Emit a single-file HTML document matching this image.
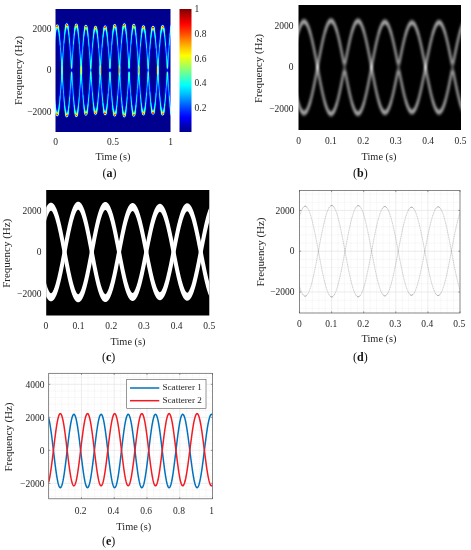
<!DOCTYPE html><html><head><meta charset="utf-8"><title>Figure</title><style>html,body{margin:0;padding:0;background:#fff}svg{display:block}</style></head><body><svg width="471" height="550" viewBox="0 0 471 550" font-family='"Liberation Serif", serif'>
<defs>
<filter id="fa" x="40" y="0" width="150" height="150" filterUnits="userSpaceOnUse" color-interpolation-filters="sRGB"><feConvolveMatrix order="5" kernelMatrix="0.0001 0.0018 0.0059 0.0018 0.0001 0.0011 0.0386 0.1260 0.0386 0.0011 0.0031 0.1071 0.3496 0.1071 0.0031 0.0011 0.0386 0.1260 0.0386 0.0011 0.0001 0.0018 0.0059 0.0018 0.0001" edgeMode="duplicate" preserveAlpha="true"/><feComponentTransfer><feFuncR type="table" tableValues="0 0 0 0 0 0 0 0 0 0.15 0.33 0.52 0.7 0.88 1 1 1 1 1 1 0.83 0.65 0.5 0.5 0.5 0.5 0.5 0.5 0.5 0.5 0.5 0.5 0.5 0.5 0.5 0.5 0.5 0.5 0.5 0.5 0.5 0.5 0.5 0.5 0.5 0.5 0.5 0.5 0.5"/><feFuncG type="table" tableValues="0 0 0 0.05 0.23 0.42 0.6 0.78 0.97 1 1 1 1 1 0.93 0.75 0.57 0.38 0.2 0.02 0 0 0 0 0 0 0 0 0 0 0 0 0 0 0 0 0 0 0 0 0 0 0 0 0 0 0 0 0"/><feFuncB type="table" tableValues="0.56 0.68 0.87 1 1 1 1 1 1 0.85 0.67 0.48 0.3 0.12 0 0 0 0 0 0 0 0 0 0 0 0 0 0 0 0 0 0 0 0 0 0 0 0 0 0 0 0 0 0 0 0 0 0 0"/></feComponentTransfer></filter>
<filter id="fb" x="280" y="-10" width="200" height="160" filterUnits="userSpaceOnUse" color-interpolation-filters="sRGB"><feGaussianBlur stdDeviation="1 1.4"/></filter>
<linearGradient id="jet" x1="0" y1="1" x2="0" y2="0">
<stop offset="0" stop-color="rgb(0,0,143)"/>
<stop offset="0.06" stop-color="rgb(0,0,191)"/>
<stop offset="0.12" stop-color="rgb(0,0,255)"/>
<stop offset="0.19" stop-color="rgb(0,64,255)"/>
<stop offset="0.25" stop-color="rgb(0,128,255)"/>
<stop offset="0.31" stop-color="rgb(0,191,255)"/>
<stop offset="0.38" stop-color="rgb(0,255,255)"/>
<stop offset="0.44" stop-color="rgb(64,255,191)"/>
<stop offset="0.5" stop-color="rgb(128,255,128)"/>
<stop offset="0.56" stop-color="rgb(191,255,64)"/>
<stop offset="0.62" stop-color="rgb(255,255,0)"/>
<stop offset="0.69" stop-color="rgb(255,191,0)"/>
<stop offset="0.75" stop-color="rgb(255,128,0)"/>
<stop offset="0.81" stop-color="rgb(255,64,0)"/>
<stop offset="0.88" stop-color="rgb(255,0,0)"/>
<stop offset="0.94" stop-color="rgb(191,0,0)"/>
<stop offset="1" stop-color="rgb(128,0,0)"/>
</linearGradient>
<clipPath id="ca"><rect x="55.5" y="9" width="115" height="123"/></clipPath>
<clipPath id="cb"><rect x="298.5" y="5" width="162.5" height="125"/></clipPath>
<clipPath id="cc"><rect x="46.2" y="190" width="163.1" height="125.4"/></clipPath>
<clipPath id="cd"><rect x="299.5" y="190.5" width="160.5" height="122.5"/></clipPath>
<clipPath id="ce"><rect x="48.7" y="373.3" width="163.8" height="125.5"/></clipPath>
</defs>
<rect width="471" height="550" fill="#fff"/>
<g clip-path="url(#ca)"><g filter="url(#fa)">
<rect x="45.5" y="1" width="135" height="143" fill="#000"/>
<path d="M52.5 68.96L52.6 67.51L52.7 66.05L52.8 64.6L52.9 63.16L53 61.72L53.1 60.29L53.2 58.87L53.3 57.46L53.4 56.06L53.5 54.68L53.6 53.31L53.7 51.96L53.8 50.63L53.9 49.32L54 48.04L54.1 46.77L54.2 45.53M60.2 45.05L60.3 46.3L60.4 47.58L60.5 48.88L60.6 50.2L60.7 51.55L60.8 52.92L60.9 54.31L61 55.71L61.1 57.14L61.2 58.57L61.3 60.02L61.4 61.49L61.5 62.96L61.6 64.44L61.7 65.93L61.8 67.43L61.9 68.92L62 70.43L62.1 71.93L62.2 73.43L62.3 74.92L62.4 76.42L62.5 77.91L62.6 79.39L62.7 80.86L62.8 82.32L62.9 83.77L63 85.2L63.1 86.62L63.2 88.02L63.3 89.4L63.4 90.77L63.5 92.11L63.6 93.43L63.7 94.72L63.8 95.99L63.9 97.23M69.7 97L69.8 95.75L69.9 94.46L70 93.16L70.1 91.83L70.2 90.47L70.3 89.09L70.4 87.7L70.5 86.28L70.6 84.85L70.7 83.4L70.8 81.94L70.9 80.46L71 78.97L71.1 77.48L71.2 75.98L71.3 74.47L71.4 72.95L71.5 71.44L71.6 69.92L71.7 68.4L71.8 66.89L71.9 65.38L72 63.87L72.1 62.38L72.2 60.89L72.3 59.41L72.4 57.94L72.5 56.49L72.6 55.05L72.7 53.63L72.8 52.23L72.9 50.85L73 49.48L73.1 48.14L73.2 46.83L73.3 45.54L73.4 44.28M79.3 44.19L79.4 45.44L79.5 46.71L79.6 48.01L79.7 49.33L79.8 50.67L79.9 52.04L80 53.42L80.1 54.82L80.2 56.24L80.3 57.67L80.4 59.11L80.5 60.56L80.6 62.03L80.7 63.5L80.8 64.98L80.9 66.46L81 67.94L81.1 69.43L81.2 70.92L81.3 72.41L81.4 73.89L81.5 75.37L81.6 76.84L81.7 78.3L81.8 79.76L81.9 81.2L82 82.63L82.1 84.05L82.2 85.45L82.3 86.83L82.4 88.19L82.5 89.54L82.6 90.86L82.7 92.16L82.8 93.44L82.9 94.69M89 94.22L89.1 92.98L89.2 91.72L89.3 90.43L89.4 89.13L89.5 87.8L89.6 86.46L89.7 85.1L89.8 83.72L89.9 82.33L90 80.93L90.1 79.52L90.2 78.09L90.3 76.67L90.4 75.23L90.5 73.79L90.6 72.35L90.7 70.9L90.8 69.46L90.9 68.01L91 66.57L91.1 65.14L91.2 63.71L91.3 62.29L91.4 60.88L91.5 59.48L91.6 58.09L91.7 56.71L91.8 55.35L91.9 54.01L92 52.68L92.1 51.37L92.2 50.09L92.3 48.83L92.4 47.59M98.7 48.1L98.8 49.35L98.9 50.61L99 51.9L99.1 53.21L99.2 54.54L99.3 55.88L99.4 57.24L99.5 58.62L99.6 60L99.7 61.4L99.8 62.81L99.9 64.22L100 65.65L100.1 67.08L100.2 68.51L100.3 69.94L100.4 71.38L100.5 72.81L100.6 74.24L100.7 75.67L100.8 77.09L100.9 78.51L101 79.91L101.1 81.31L101.2 82.7L101.3 84.07L101.4 85.43L101.5 86.77L101.6 88.09L101.7 89.4L101.8 90.69L101.9 91.95L102 93.2M108.2 93.97L108.3 92.73L108.4 91.46L108.5 90.17L108.6 88.85L108.7 87.52L108.8 86.16L108.9 84.79L109 83.41L109.1 82L109.2 80.59L109.3 79.16L109.4 77.72L109.5 76.27L109.6 74.82L109.7 73.36L109.8 71.89L109.9 70.42L110 68.95L110.1 67.49L110.2 66.02L110.3 64.56L110.4 63.1L110.5 61.65L110.6 60.21L110.7 58.77L110.8 57.35L110.9 55.94L111 54.55L111.1 53.17L111.2 51.81L111.3 50.47L111.4 49.15L111.5 47.85L111.6 46.58L111.7 45.33M117.7 44.88L117.8 46.14L117.9 47.42L118 48.74L118.1 50.07L118.2 51.43L118.3 52.81L118.4 54.21L118.5 55.62L118.6 57.05L118.7 58.5L118.8 59.96L118.9 61.43L119 62.92L119.1 64.41L119.2 65.91L119.3 67.41L119.4 68.92L119.5 70.43L119.6 71.94L119.7 73.44L119.8 74.95L119.9 76.45L120 77.95L120.1 79.43L120.2 80.91L120.3 82.38L120.4 83.83L120.5 85.27L120.6 86.7L120.7 88.1L120.8 89.49L120.9 90.86L121 92.21L121.1 93.53L121.2 94.83L121.3 96.1L121.4 97.35M127.2 96.98L127.3 95.72L127.4 94.44L127.5 93.13L127.6 91.8L127.7 90.44L127.8 89.07L127.9 87.67L128 86.25L128.1 84.82L128.2 83.38L128.3 81.91L128.4 80.44L128.5 78.96L128.6 77.46L128.7 75.96L128.8 74.46L128.9 72.95L129 71.43L129.1 69.92L129.2 68.41L129.3 66.9L129.4 65.39L129.5 63.89L129.6 62.4L129.7 60.92L129.8 59.44L129.9 57.98L130 56.54L130.1 55.1L130.2 53.69L130.3 52.29L130.4 50.92L130.5 49.56L130.6 48.23L130.7 46.92L130.8 45.64L130.9 44.38M136.9 45.63L137 46.89L137.1 48.18L137.2 49.49L137.3 50.83L137.4 52.18L137.5 53.55L137.6 54.94L137.7 56.35L137.8 57.77L137.9 59.2L138 60.64L138.1 62.09L138.2 63.55L138.3 65.02L138.4 66.49L138.5 67.96L138.6 69.44L138.7 70.91L138.8 72.39L138.9 73.86L139 75.33L139.1 76.79L139.2 78.24L139.3 79.68L139.4 81.11L139.5 82.53L139.6 83.93L139.7 85.32L139.8 86.69L139.9 88.05L140 89.38L140.1 90.69L140.2 91.98L140.3 93.25L140.4 94.49M146.6 92.84L146.7 91.59L146.8 90.31L146.9 89.02L147 87.7L147.1 86.36L147.2 85.01L147.3 83.64L147.4 82.26L147.5 80.87L147.6 79.47L147.7 78.05L147.8 76.63L147.9 75.2L148 73.77L148.1 72.34L148.2 70.9L148.3 69.46L148.4 68.03L148.5 66.59L148.6 65.16L148.7 63.74L148.8 62.33L148.9 60.92L149 59.52L149.1 58.14L149.2 56.77L149.3 55.41L149.4 54.07L149.5 52.75L149.6 51.45L149.7 50.16L149.8 48.9M156.2 48.05L156.3 49.29L156.4 50.56L156.5 51.85L156.6 53.16L156.7 54.49L156.8 55.84L156.9 57.2L157 58.58L157.1 59.97L157.2 61.37L157.3 62.78L157.4 64.2L157.5 65.63L157.6 67.06L157.7 68.5L157.8 69.94L157.9 71.38L158 72.82L158.1 74.26L158.2 75.69L158.3 77.12L158.4 78.54L158.5 79.96L158.6 81.36L158.7 82.75L158.8 84.13L158.9 85.5L159 86.85L159.1 88.18L159.2 89.5L159.3 90.79L159.4 92.06L159.5 93.31M165.7 94.16L165.8 92.91L165.9 91.63L166 90.33L166.1 89L166.2 87.66L166.3 86.3L166.4 84.91L166.5 83.51L166.6 82.1L166.7 80.67L166.8 79.23L166.9 77.78L167 76.32L167.1 74.85L167.2 73.38L167.3 71.9L167.4 70.42L167.5 68.94L167.6 67.46L167.7 65.98L167.8 64.51L167.9 63.04L168 61.58L168.1 60.12L168.2 58.68L168.3 57.25L168.4 55.83L168.5 54.42L168.6 53.03L168.7 51.66L168.8 50.31L168.9 48.98L169 47.67L169.1 46.39L169.2 45.13" stroke="#fff" stroke-opacity="0.25" stroke-width="1" fill="none"/>
<path d="M54.2 45.53L54.3 44.32L54.4 43.13L54.5 41.97L54.6 40.84L54.7 39.74L54.8 38.68L54.9 37.64L55 36.64L55.1 35.68M59.4 36.16L59.5 37.15L59.6 38.18L59.7 39.24L59.8 40.34L59.9 41.47L60 42.63L60.1 43.83L60.2 45.05M63.9 97.23L64 98.45L64.1 99.63L64.2 100.78L64.3 101.9L64.4 102.99L64.5 104.04L64.6 105.06L64.7 106.04M68.9 105.89L69 104.9L69.1 103.87L69.2 102.81L69.3 101.71L69.4 100.58L69.5 99.42L69.6 98.22L69.7 97M73.4 44.28L73.5 43.04L73.6 41.84L73.7 40.67L73.8 39.53L73.9 38.42L74 37.34L74.1 36.31L74.2 35.31M78.5 35.3L78.6 36.29L78.7 37.32L78.8 38.39L78.9 39.48L79 40.62L79.1 41.78L79.2 42.97L79.3 44.19M82.9 94.69L83 95.91L83.1 97.11L83.2 98.27L83.3 99.4L83.4 100.51L83.5 101.58L83.6 102.61L83.7 103.61L83.8 104.57M88.1 104.11L88.2 103.14L88.3 102.13L88.4 101.09L88.5 100.02L88.6 98.92L88.7 97.79L88.8 96.63L88.9 95.44L89 94.22M92.4 47.59L92.5 46.37L92.6 45.18L92.7 44.02L92.8 42.89L92.9 41.78L93 40.71L93.1 39.67L93.2 38.66L93.3 37.69M97.8 38.12L97.9 39.1L98 40.12L98.1 41.18L98.2 42.26L98.3 43.37L98.4 44.51L98.5 45.68L98.6 46.88L98.7 48.1M102 93.2L102.1 94.41L102.2 95.61L102.3 96.77L102.4 97.91L102.5 99.02L102.6 100.1L102.7 101.15L102.8 102.16L102.9 103.14M107.3 103.83L107.4 102.87L107.5 101.87L107.6 100.83L107.7 99.77L107.8 98.67L107.9 97.54L108 96.37L108.1 95.19L108.2 93.97M111.7 45.33L111.8 44.1L111.9 42.9L112 41.74L112.1 40.6L112.2 39.49L112.3 38.41L112.4 37.37L112.5 36.37L112.6 35.39M116.8 34.95L116.9 35.92L117 36.92L117.1 37.95L117.2 39.03L117.3 40.13L117.4 41.27L117.5 42.45L117.6 43.65L117.7 44.88M121.4 97.35L121.5 98.56L121.6 99.75L121.7 100.91L121.8 102.03L121.9 103.12L122 104.17L122.1 105.19L122.2 106.16M126.4 105.88L126.5 104.89L126.6 103.86L126.7 102.8L126.8 101.7L126.9 100.57L127 99.4L127.1 98.2L127.2 96.98M130.9 44.38L131 43.16L131.1 41.96L131.2 40.79L131.3 39.66L131.4 38.56L131.5 37.49L131.6 36.46L131.7 35.47M136 35.56L136.1 36.54L136.2 37.57L136.3 38.62L136.4 39.71L136.5 40.84L136.6 41.99L136.7 43.17L136.8 44.39L136.9 45.63M140.4 94.49L140.5 95.7L140.6 96.89L140.7 98.04L140.8 99.17L140.9 100.26L141 101.32L141.1 102.35L141.2 103.34M145.7 102.92L145.8 101.92L145.9 100.89L146 99.83L146.1 98.74L146.2 97.61L146.3 96.46L146.4 95.28L146.5 94.08L146.6 92.84M149.8 48.9L149.9 47.67L150 46.45L150.1 45.27L150.2 44.11L150.3 42.97L150.4 41.87L150.5 40.8L150.6 39.76L150.7 38.75L150.8 37.78M155.3 38.07L155.4 39.05L155.5 40.07L155.6 41.12L155.7 42.21L155.8 43.32L155.9 44.46L156 45.63L156.1 46.83L156.2 48.05M159.5 93.31L159.6 94.54L159.7 95.74L159.8 96.91L159.9 98.06L160 99.18L160.1 100.26L160.2 101.32L160.3 102.34L160.4 103.33M164.8 104.1L164.9 103.13L165 102.12L165.1 101.08L165.2 100L165.3 98.89L165.4 97.76L165.5 96.59L165.6 95.39L165.7 94.16M169.2 45.13L169.3 43.89L169.4 42.68L169.5 41.51L169.6 40.36L169.7 39.24L169.8 38.16L169.9 37.11L170 36.1L170.1 35.12" stroke="#fff" stroke-opacity="0.31" stroke-width="1" fill="none"/>
<path d="M55.1 35.68L55.2 34.75L55.3 33.86L55.4 33.01L55.5 32.2M58.9 31.78L59 32.58L59.1 33.41L59.2 34.29L59.3 35.21L59.4 36.16M64.7 106.04L64.8 106.98L64.9 107.88L65 108.74L65.1 109.56M68.4 110.23L68.5 109.44L68.6 108.62L68.7 107.75L68.8 106.84L68.9 105.89M74.2 35.31L74.3 34.35L74.4 33.42L74.5 32.54L74.6 31.7L74.7 30.9M78 30.92L78.1 31.71L78.2 32.55L78.3 33.43L78.4 34.35L78.5 35.3M83.8 104.57L83.9 105.5L84 106.38L84.1 107.23L84.2 108.04M87.7 107.62L87.8 106.8L87.9 105.94L88 105.04L88.1 104.11M93.3 37.69L93.4 36.75L93.5 35.85L93.6 34.98L93.7 34.16L93.8 33.37M97.3 33.73L97.4 34.53L97.5 35.37L97.6 36.25L97.7 37.17L97.8 38.12M102.9 103.14L103 104.09L103.1 105L103.2 105.87L103.3 106.7L103.4 107.5M106.9 107.31L107 106.5L107.1 105.65L107.2 104.76L107.3 103.83M112.6 35.39L112.7 34.46L112.8 33.56L112.9 32.71L113 31.89M116.4 31.5L116.5 32.3L116.6 33.14L116.7 34.03L116.8 34.95M122.2 106.16L122.3 107.1L122.4 108.01L122.5 108.87L122.6 109.69M125.9 110.24L126 109.45L126.1 108.62L126.2 107.75L126.3 106.83L126.4 105.88M131.7 35.47L131.8 34.52L131.9 33.6L132 32.72L132.1 31.89L132.2 31.1M135.5 31.19L135.6 31.99L135.7 32.82L135.8 33.69L135.9 34.61L136 35.56M141.2 103.34L141.3 104.29L141.4 105.21L141.5 106.09L141.6 106.93L141.7 107.73M145.2 107.36L145.3 106.55L145.4 105.7L145.5 104.81L145.6 103.88L145.7 102.92M150.8 37.78L150.9 36.84L151 35.94L151.1 35.07L151.2 34.25L151.3 33.46M154.8 33.69L154.9 34.49L155 35.33L155.1 36.21L155.2 37.12L155.3 38.07M160.4 103.33L160.5 104.28L160.6 105.2L160.7 106.08L160.8 106.93L160.9 107.73M164.4 107.6L164.5 106.78L164.6 105.93L164.7 105.03L164.8 104.1M170.1 35.12L170.2 34.18L170.3 33.28L170.4 32.42L170.5 31.59" stroke="#fff" stroke-opacity="0.38" stroke-width="1" fill="none"/>
<path d="M55.5 32.2L55.6 31.43L55.7 30.7L55.8 30.02M58.6 29.65L58.7 30.32L58.8 31.03L58.9 31.78M65.1 109.56L65.2 110.34L65.3 111.07L65.4 111.76M68.1 112.33L68.2 111.67L68.3 110.97L68.4 110.23M74.7 30.9L74.8 30.14L74.9 29.43L75 28.76M77.7 28.78L77.8 29.45L77.9 30.16L78 30.92M84.2 108.04L84.3 108.81L84.4 109.53L84.5 110.21M87.3 110.5L87.4 109.84L87.5 109.14L87.6 108.4L87.7 107.62M93.8 33.37L93.9 32.62L94 31.92L94.1 31.25M97 31.55L97.1 32.24L97.2 32.96L97.3 33.73M103.4 107.5L103.5 108.26L103.6 108.98L103.7 109.65M106.6 109.5L106.7 108.81L106.8 108.08L106.9 107.31M113 31.89L113.1 31.11L113.2 30.38L113.3 29.69M116.1 29.34L116.2 30.02L116.3 30.74L116.4 31.5M122.6 109.69L122.7 110.46L122.8 111.2L122.9 111.89M125.6 112.35L125.7 111.69L125.8 110.99L125.9 110.24M132.2 31.1L132.3 30.34L132.4 29.64L132.5 28.97M135.2 29.07L135.3 29.73L135.4 30.44L135.5 31.19M141.7 107.73L141.8 108.5L141.9 109.21L142 109.89M144.8 110.22L144.9 109.56L145 108.87L145.1 108.14L145.2 107.36M151.3 33.46L151.4 32.71L151.5 32L151.6 31.33M154.5 31.52L154.6 32.21L154.7 32.93L154.8 33.69M160.9 107.73L161 108.49L161.1 109.22L161.2 109.9M164.1 109.8L164.2 109.11L164.3 108.38L164.4 107.6M170.5 31.59L170.6 30.81L170.7 30.07L170.8 29.38L170.9 28.73" stroke="#fff" stroke-opacity="0.44" stroke-width="1" fill="none"/>
<path d="M55.8 30.02L55.9 29.37L56 28.77L56.1 28.22M58.4 28.45L58.5 29.02L58.6 29.65M65.4 111.76L65.5 112.41L65.6 113.01L65.7 113.57M67.9 113.5L68 112.93L68.1 112.33M75 28.76L75.1 28.13L75.2 27.55M77.5 27.58L77.6 28.16L77.7 28.78M84.5 110.21L84.6 110.85L84.7 111.45L84.8 112M87.1 111.69L87.2 111.12L87.3 110.5M94.1 31.25L94.2 30.63L94.3 30.04M96.7 29.75L96.8 30.31L96.9 30.91L97 31.55M103.7 109.65L103.8 110.28L103.9 110.88M106.3 111.31L106.4 110.75L106.5 110.15L106.6 109.5M113.3 29.69L113.4 29.04L113.5 28.43L113.6 27.87M115.9 28.13L116 28.71L116.1 29.34M122.9 111.89L123 112.53L123.1 113.13L123.2 113.69M125.4 113.53L125.5 112.96L125.6 112.35M132.5 28.97L132.6 28.36L132.7 27.78M135 27.87L135.1 28.44L135.2 29.07M142 109.89L142.1 110.53L142.2 111.12M144.6 111.39L144.7 110.83L144.8 110.22M151.6 31.33L151.7 30.7L151.8 30.12M154.2 29.73L154.3 30.29L154.4 30.89L154.5 31.52M161.2 109.9L161.3 110.54L161.4 111.14L161.5 111.69M163.8 111.62L163.9 111.06L164 110.45L164.1 109.8M170.9 28.73L171 28.12L171.1 27.55M173.4 27.86L173.5 28.45" stroke="#fff" stroke-opacity="0.5" stroke-width="1" fill="none"/>
<path d="M56.1 28.22L56.2 27.7L56.3 27.24M58.2 27.42L58.3 27.91L58.4 28.45M65.7 113.57L65.8 114.08M67.7 114.48L67.8 114.01L67.9 113.5M75.2 27.55L75.3 27.02L75.4 26.53M77.3 26.56L77.4 27.04L77.5 27.58M84.8 112L84.9 112.5M86.9 112.7L87 112.22L87.1 111.69M94.3 30.04L94.4 29.51L94.5 29.01M96.5 28.77L96.6 29.24L96.7 29.75M103.9 110.88L104 111.42L104.1 111.93M106.1 112.3L106.2 111.83L106.3 111.31M113.6 27.87L113.7 27.36L113.8 26.89M115.7 27.1L115.8 27.59L115.9 28.13M123.2 113.69L123.3 114.19M125.2 114.52L125.3 114.05L125.4 113.53M132.7 27.78L132.8 27.26L132.9 26.78M134.8 26.85L134.9 27.34L135 27.87M142.2 111.12L142.3 111.66L142.4 112.16M144.4 112.39L144.5 111.91L144.6 111.39M151.8 30.12L151.9 29.58L152 29.08M154 28.76L154.1 29.22L154.2 29.73M161.5 111.69L161.6 112.2L161.7 112.67M163.6 112.61L163.7 112.14L163.8 111.62M171.1 27.55L171.2 27.04L171.3 26.57M173.2 26.82L173.3 27.32L173.4 27.86" stroke="#fff" stroke-opacity="0.56" stroke-width="1" fill="none"/>
<path d="M56.3 27.24L56.4 26.82M58 26.59L58.1 26.98L58.2 27.42M65.8 114.08L65.9 114.54L66 114.95M67.6 114.9L67.7 114.48M75.4 26.53L75.5 26.09L75.6 25.7M77.1 25.72L77.2 26.12L77.3 26.56M84.9 112.5L85 112.96L85.1 113.37M86.7 113.53L86.8 113.14L86.9 112.7M94.5 29.01L94.6 28.56L94.7 28.16M96.4 28.34L96.5 28.77M104.1 111.93L104.2 112.39L104.3 112.8M106 112.72L106.1 112.3M113.8 26.89L113.9 26.46M115.5 26.25L115.6 26.65L115.7 27.1M123.3 114.19L123.4 114.65L123.5 115.06M125.1 114.95L125.2 114.52M132.9 26.78L133 26.34M134.6 26.02L134.7 26.41L134.8 26.85M142.4 112.16L142.5 112.62L142.6 113.03M144.3 112.82L144.4 112.39M152 29.08L152.1 28.63L152.2 28.22M153.9 28.34L154 28.76M161.7 112.67L161.8 113.09M163.5 113.04L163.6 112.61M171.3 26.57L171.4 26.14M173 25.96L173.1 26.37L173.2 26.82" stroke="#fff" stroke-opacity="0.62" stroke-width="1" fill="none"/>
<path d="M56.4 26.82L56.5 26.44L56.6 26.12M57.9 26.24L58 26.59M66 114.95L66.1 115.32M67.4 115.6L67.5 115.28L67.6 114.9M75.6 25.7L75.7 25.36M77 25.38L77.1 25.72M85.1 113.37L85.2 113.74M86.6 113.88L86.7 113.53M94.7 28.16L94.8 27.8M96.2 27.63L96.3 27.96L96.4 28.34M104.3 112.8L104.4 113.17L104.5 113.5M105.8 113.44L105.9 113.1L106 112.72M113.9 26.46L114 26.09L114.1 25.76M115.4 25.9L115.5 26.25M123.5 115.06L123.6 115.43M124.9 115.66L125 115.33L125.1 114.95M133 26.34L133.1 25.96L133.2 25.62M134.5 25.67L134.6 26.02M142.6 113.03L142.7 113.4M144.1 113.55L144.2 113.21L144.3 112.82M152.2 28.22L152.3 27.86M153.7 27.63L153.8 27.96L153.9 28.34M161.8 113.09L161.9 113.46L162 113.79M163.3 113.76L163.4 113.42L163.5 113.04M171.4 26.14L171.5 25.77L171.6 25.44M172.9 25.61L173 25.96" stroke="#fff" stroke-opacity="0.69" stroke-width="1" fill="none"/>
<path d="M56.6 26.12L56.7 25.84M57.8 25.94L57.9 26.24M66.1 115.32L66.2 115.64L66.3 115.91M67.3 115.88L67.4 115.6M75.7 25.36L75.8 25.07M76.9 25.08L77 25.38M85.2 113.74L85.3 114.06L85.4 114.33M86.5 114.18L86.6 113.88M94.8 27.8L94.9 27.48L95 27.21M96.1 27.34L96.2 27.63M104.5 113.5L104.6 113.77M105.7 113.72L105.8 113.44M114.1 25.76L114.2 25.48M115.3 25.6L115.4 25.9M123.6 115.43L123.7 115.74L123.8 116.01M124.8 115.94L124.9 115.66M133.2 25.62L133.3 25.33M134.4 25.38L134.5 25.67M142.7 113.4L142.8 113.72L142.9 113.99M144 113.85L144.1 113.55M152.3 27.86L152.4 27.54L152.5 27.27M153.6 27.34L153.7 27.63M162 113.79L162.1 114.07M163.2 114.04L163.3 113.76M171.6 25.44L171.7 25.16M172.7 25.04L172.8 25.3L172.9 25.61" stroke="#fff" stroke-opacity="0.75" stroke-width="1" fill="none"/>
<path d="M56.7 25.84L56.8 25.61M57.6 25.49L57.7 25.69L57.8 25.94M66.3 115.91L66.4 116.13M67.2 116.1L67.3 115.88M75.8 25.07L75.9 24.82L76 24.63M76.7 24.64L76.8 24.84L76.9 25.08M85.4 114.33L85.5 114.56M86.3 114.63L86.4 114.43L86.5 114.18M95 27.21L95.1 26.99M95.9 26.89L96 27.09L96.1 27.34M104.6 113.77L104.7 114M105.5 114.16L105.6 113.96L105.7 113.72M114.2 25.48L114.3 25.25M115.1 25.14L115.2 25.34L115.3 25.6M123.8 116.01L123.9 116.22M124.7 116.17L124.8 115.94M133.3 25.33L133.4 25.09L133.5 24.9M134.2 24.93L134.3 25.13L134.4 25.38M142.9 113.99L143 114.21M143.8 114.3L143.9 114.1L144 113.85M152.5 27.27L152.6 27.04M153.4 26.91L153.5 27.1L153.6 27.34M162.1 114.07L162.2 114.31L162.3 114.49M163 114.48L163.1 114.28L163.2 114.04M171.7 25.16L171.8 24.92M172.6 24.83L172.7 25.04" stroke="#fff" stroke-opacity="0.81" stroke-width="1" fill="none"/>
<path d="M56.8 25.61L56.9 25.42L57 25.29M57.4 25.23L57.5 25.33L57.6 25.49M66.4 116.13L66.5 116.3L66.6 116.42M67 116.41L67.1 116.28L67.2 116.1M76 24.63L76.1 24.48M76.6 24.49L76.7 24.64M85.5 114.56L85.6 114.73L85.7 114.86M86.1 114.9L86.2 114.79L86.3 114.63M95.1 26.99L95.2 26.82L95.3 26.69M95.7 26.64L95.8 26.74L95.9 26.89M104.7 114L104.8 114.19L104.9 114.33M105.4 114.3L105.5 114.16M114.3 25.25L114.4 25.06L114.5 24.93M114.9 24.87L115 24.98L115.1 25.14M123.9 116.22L124 116.39L124.1 116.51M124.5 116.48L124.6 116.35L124.7 116.17M133.5 24.9L133.6 24.75M134 24.67L134.1 24.77L134.2 24.93M143 114.21L143.1 114.39L143.2 114.52M143.6 114.56L143.7 114.45L143.8 114.3M152.6 27.04L152.7 26.86L152.8 26.73M153.3 26.76L153.4 26.91M162.3 114.49L162.4 114.63M162.9 114.62L163 114.48M171.8 24.92L171.9 24.74L172 24.6M172.4 24.56L172.5 24.67L172.6 24.83" stroke="#fff" stroke-opacity="0.88" stroke-width="1" fill="none"/>
<path d="M57 25.29L57.1 25.2L57.2 25.16L57.3 25.17L57.4 25.23M66.6 116.42L66.7 116.49L66.8 116.51L66.9 116.49L67 116.41M76.1 24.48L76.2 24.38L76.3 24.33L76.4 24.34L76.5 24.39L76.6 24.49M85.7 114.86L85.8 114.94L85.9 114.98L86 114.96L86.1 114.9M95.3 26.69L95.4 26.6L95.5 26.57L95.6 26.58L95.7 26.64M104.9 114.33L105 114.42L105.1 114.46L105.2 114.45L105.3 114.4L105.4 114.3M114.5 24.93L114.6 24.84L114.7 24.8L114.8 24.81L114.9 24.87M124.1 116.51L124.2 116.58L124.3 116.6L124.4 116.56L124.5 116.48M133.6 24.75L133.7 24.66L133.8 24.61L133.9 24.62L134 24.67M143.2 114.52L143.3 114.6L143.4 114.64L143.5 114.62L143.6 114.56M152.8 26.73L152.9 26.64L153 26.6L153.1 26.61L153.2 26.66L153.3 26.76M162.4 114.63L162.5 114.73L162.6 114.77L162.7 114.77L162.8 114.72L162.9 114.62M172 24.6L172.1 24.52L172.2 24.48L172.3 24.5L172.4 24.56" stroke="#fff" stroke-opacity="0.94" stroke-width="1" fill="none"/>
<path d="M52.5 71.64L52.6 73.09L52.7 74.55L52.8 76L52.9 77.44L53 78.88L53.1 80.31L53.2 81.73L53.3 83.14L53.4 84.54L53.5 85.92L53.6 87.29L53.7 88.64L53.8 89.97L53.9 91.28L54 92.56L54.1 93.83L54.2 95.07M60.2 95.55L60.3 94.3L60.4 93.02L60.5 91.72L60.6 90.4L60.7 89.05L60.8 87.68L60.9 86.29L61 84.89L61.1 83.46L61.2 82.03L61.3 80.58L61.4 79.11L61.5 77.64L61.6 76.16L61.7 74.67L61.8 73.17L61.9 71.68L62 70.17L62.1 68.67L62.2 67.17L62.3 65.68L62.4 64.18L62.5 62.69L62.6 61.21L62.7 59.74L62.8 58.28L62.9 56.83L63 55.4L63.1 53.98L63.2 52.58L63.3 51.2L63.4 49.83L63.5 48.49L63.6 47.17L63.7 45.88L63.8 44.61L63.9 43.37M69.7 43.6L69.8 44.85L69.9 46.14L70 47.44L70.1 48.77L70.2 50.13L70.3 51.51L70.4 52.9L70.5 54.32L70.6 55.75L70.7 57.2L70.8 58.66L70.9 60.14L71 61.63L71.1 63.12L71.2 64.62L71.3 66.13L71.4 67.65L71.5 69.16L71.6 70.68L71.7 72.2L71.8 73.71L71.9 75.22L72 76.73L72.1 78.22L72.2 79.71L72.3 81.19L72.4 82.66L72.5 84.11L72.6 85.55L72.7 86.97L72.8 88.37L72.9 89.75L73 91.12L73.1 92.46L73.2 93.77L73.3 95.06L73.4 96.32M79.3 96.41L79.4 95.16L79.5 93.89L79.6 92.59L79.7 91.27L79.8 89.93L79.9 88.56L80 87.18L80.1 85.78L80.2 84.36L80.3 82.93L80.4 81.49L80.5 80.04L80.6 78.57L80.7 77.1L80.8 75.62L80.9 74.14L81 72.66L81.1 71.17L81.2 69.68L81.3 68.19L81.4 66.71L81.5 65.23L81.6 63.76L81.7 62.3L81.8 60.84L81.9 59.4L82 57.97L82.1 56.55L82.2 55.15L82.3 53.77L82.4 52.41L82.5 51.06L82.6 49.74L82.7 48.44L82.8 47.16L82.9 45.91M89 46.38L89.1 47.62L89.2 48.88L89.3 50.17L89.4 51.47L89.5 52.8L89.6 54.14L89.7 55.5L89.8 56.88L89.9 58.27L90 59.67L90.1 61.08L90.2 62.51L90.3 63.93L90.4 65.37L90.5 66.81L90.6 68.25L90.7 69.7L90.8 71.14L90.9 72.59L91 74.03L91.1 75.46L91.2 76.89L91.3 78.31L91.4 79.72L91.5 81.12L91.6 82.51L91.7 83.89L91.8 85.25L91.9 86.59L92 87.92L92.1 89.23L92.2 90.51L92.3 91.77L92.4 93.01M98.7 92.5L98.8 91.25L98.9 89.99L99 88.7L99.1 87.39L99.2 86.06L99.3 84.72L99.4 83.36L99.5 81.98L99.6 80.6L99.7 79.2L99.8 77.79L99.9 76.38L100 74.95L100.1 73.52L100.2 72.09L100.3 70.66L100.4 69.22L100.5 67.79L100.6 66.36L100.7 64.93L100.8 63.51L100.9 62.09L101 60.69L101.1 59.29L101.2 57.9L101.3 56.53L101.4 55.17L101.5 53.83L101.6 52.51L101.7 51.2L101.8 49.91L101.9 48.65L102 47.4M108.2 46.63L108.3 47.87L108.4 49.14L108.5 50.43L108.6 51.75L108.7 53.08L108.8 54.44L108.9 55.81L109 57.19L109.1 58.6L109.2 60.01L109.3 61.44L109.4 62.88L109.5 64.33L109.6 65.78L109.7 67.24L109.8 68.71L109.9 70.18L110 71.65L110.1 73.11L110.2 74.58L110.3 76.04L110.4 77.5L110.5 78.95L110.6 80.39L110.7 81.83L110.8 83.25L110.9 84.66L111 86.05L111.1 87.43L111.2 88.79L111.3 90.13L111.4 91.45L111.5 92.75L111.6 94.02L111.7 95.27M117.7 95.72L117.8 94.46L117.9 93.18L118 91.86L118.1 90.53L118.2 89.17L118.3 87.79L118.4 86.39L118.5 84.98L118.6 83.55L118.7 82.1L118.8 80.64L118.9 79.17L119 77.68L119.1 76.19L119.2 74.69L119.3 73.19L119.4 71.68L119.5 70.17L119.6 68.66L119.7 67.16L119.8 65.65L119.9 64.15L120 62.65L120.1 61.17L120.2 59.69L120.3 58.22L120.4 56.77L120.5 55.33L120.6 53.9L120.7 52.5L120.8 51.11L120.9 49.74L121 48.39L121.1 47.07L121.2 45.77L121.3 44.5L121.4 43.25M127.2 43.62L127.3 44.88L127.4 46.16L127.5 47.47L127.6 48.8L127.7 50.16L127.8 51.53L127.9 52.93L128 54.35L128.1 55.78L128.2 57.22L128.3 58.69L128.4 60.16L128.5 61.64L128.6 63.14L128.7 64.64L128.8 66.14L128.9 67.65L129 69.17L129.1 70.68L129.2 72.19L129.3 73.7L129.4 75.21L129.5 76.71L129.6 78.2L129.7 79.68L129.8 81.16L129.9 82.62L130 84.06L130.1 85.5L130.2 86.91L130.3 88.31L130.4 89.68L130.5 91.04L130.6 92.37L130.7 93.68L130.8 94.96L130.9 96.22M136.9 94.97L137 93.71L137.1 92.42L137.2 91.11L137.3 89.77L137.4 88.42L137.5 87.05L137.6 85.66L137.7 84.25L137.8 82.83L137.9 81.4L138 79.96L138.1 78.51L138.2 77.05L138.3 75.58L138.4 74.11L138.5 72.64L138.6 71.16L138.7 69.69L138.8 68.21L138.9 66.74L139 65.27L139.1 63.81L139.2 62.36L139.3 60.92L139.4 59.49L139.5 58.07L139.6 56.67L139.7 55.28L139.8 53.91L139.9 52.55L140 51.22L140.1 49.91L140.2 48.62L140.3 47.35L140.4 46.11M146.6 47.76L146.7 49.01L146.8 50.29L146.9 51.58L147 52.9L147.1 54.24L147.2 55.59L147.3 56.96L147.4 58.34L147.5 59.73L147.6 61.13L147.7 62.55L147.8 63.97L147.9 65.4L148 66.83L148.1 68.26L148.2 69.7L148.3 71.14L148.4 72.57L148.5 74.01L148.6 75.44L148.7 76.86L148.8 78.27L148.9 79.68L149 81.08L149.1 82.46L149.2 83.83L149.3 85.19L149.4 86.53L149.5 87.85L149.6 89.15L149.7 90.44L149.8 91.7M156.2 92.55L156.3 91.31L156.4 90.04L156.5 88.75L156.6 87.44L156.7 86.11L156.8 84.76L156.9 83.4L157 82.02L157.1 80.63L157.2 79.23L157.3 77.82L157.4 76.4L157.5 74.97L157.6 73.54L157.7 72.1L157.8 70.66L157.9 69.22L158 67.78L158.1 66.34L158.2 64.91L158.3 63.48L158.4 62.06L158.5 60.64L158.6 59.24L158.7 57.85L158.8 56.47L158.9 55.1L159 53.75L159.1 52.42L159.2 51.1L159.3 49.81L159.4 48.54L159.5 47.29M165.7 46.44L165.8 47.69L165.9 48.97L166 50.27L166.1 51.6L166.2 52.94L166.3 54.3L166.4 55.69L166.5 57.09L166.6 58.5L166.7 59.93L166.8 61.37L166.9 62.82L167 64.28L167.1 65.75L167.2 67.22L167.3 68.7L167.4 70.18L167.5 71.66L167.6 73.14L167.7 74.62L167.8 76.09L167.9 77.56L168 79.02L168.1 80.48L168.2 81.92L168.3 83.35L168.4 84.77L168.5 86.18L168.6 87.57L168.7 88.94L168.8 90.29L168.9 91.62L169 92.93L169.1 94.21L169.2 95.47" stroke="#fff" stroke-opacity="0.25" stroke-width="1" fill="none"/>
<path d="M54.2 95.07L54.3 96.28L54.4 97.47L54.5 98.63L54.6 99.76L54.7 100.86L54.8 101.92L54.9 102.96L55 103.96L55.1 104.92M59.4 104.44L59.5 103.45L59.6 102.42L59.7 101.36L59.8 100.26L59.9 99.13L60 97.97L60.1 96.77L60.2 95.55M63.9 43.37L64 42.15L64.1 40.97L64.2 39.82L64.3 38.7L64.4 37.61L64.5 36.56L64.6 35.54L64.7 34.56M68.9 34.71L69 35.7L69.1 36.73L69.2 37.79L69.3 38.89L69.4 40.02L69.5 41.18L69.6 42.38L69.7 43.6M73.4 96.32L73.5 97.56L73.6 98.76L73.7 99.93L73.8 101.07L73.9 102.18L74 103.26L74.1 104.29L74.2 105.29M78.5 105.3L78.6 104.31L78.7 103.28L78.8 102.21L78.9 101.12L79 99.98L79.1 98.82L79.2 97.63L79.3 96.41M82.9 45.91L83 44.69L83.1 43.49L83.2 42.33L83.3 41.2L83.4 40.09L83.5 39.02L83.6 37.99L83.7 36.99L83.8 36.03M88.1 36.49L88.2 37.46L88.3 38.47L88.4 39.51L88.5 40.58L88.6 41.68L88.7 42.81L88.8 43.97L88.9 45.16L89 46.38M92.4 93.01L92.5 94.23L92.6 95.42L92.7 96.58L92.8 97.71L92.9 98.82L93 99.89L93.1 100.93L93.2 101.94L93.3 102.91M97.8 102.48L97.9 101.5L98 100.48L98.1 99.42L98.2 98.34L98.3 97.23L98.4 96.09L98.5 94.92L98.6 93.72L98.7 92.5M102 47.4L102.1 46.19L102.2 44.99L102.3 43.83L102.4 42.69L102.5 41.58L102.6 40.5L102.7 39.45L102.8 38.44L102.9 37.46M107.3 36.77L107.4 37.73L107.5 38.73L107.6 39.77L107.7 40.83L107.8 41.93L107.9 43.06L108 44.23L108.1 45.41L108.2 46.63M111.7 95.27L111.8 96.5L111.9 97.7L112 98.86L112.1 100L112.2 101.11L112.3 102.19L112.4 103.23L112.5 104.23L112.6 105.21M116.8 105.65L116.9 104.68L117 103.68L117.1 102.65L117.2 101.57L117.3 100.47L117.4 99.33L117.5 98.15L117.6 96.95L117.7 95.72M121.4 43.25L121.5 42.04L121.6 40.85L121.7 39.69L121.8 38.57L121.9 37.48L122 36.43L122.1 35.41L122.2 34.44M126.4 34.72L126.5 35.71L126.6 36.74L126.7 37.8L126.8 38.9L126.9 40.03L127 41.2L127.1 42.4L127.2 43.62M130.9 96.22L131 97.44L131.1 98.64L131.2 99.81L131.3 100.94L131.4 102.04L131.5 103.11L131.6 104.14L131.7 105.13M136 105.04L136.1 104.06L136.2 103.03L136.3 101.98L136.4 100.89L136.5 99.76L136.6 98.61L136.7 97.43L136.8 96.21L136.9 94.97M140.4 46.11L140.5 44.9L140.6 43.71L140.7 42.56L140.8 41.43L140.9 40.34L141 39.28L141.1 38.25L141.2 37.26M145.7 37.68L145.8 38.68L145.9 39.71L146 40.77L146.1 41.86L146.2 42.99L146.3 44.14L146.4 45.32L146.5 46.52L146.6 47.76M149.8 91.7L149.9 92.93L150 94.15L150.1 95.33L150.2 96.49L150.3 97.63L150.4 98.73L150.5 99.8L150.6 100.84L150.7 101.85L150.8 102.82M155.3 102.53L155.4 101.55L155.5 100.53L155.6 99.48L155.7 98.39L155.8 97.28L155.9 96.14L156 94.97L156.1 93.77L156.2 92.55M159.5 47.29L159.6 46.06L159.7 44.86L159.8 43.69L159.9 42.54L160 41.42L160.1 40.34L160.2 39.28L160.3 38.26L160.4 37.27M164.8 36.5L164.9 37.47L165 38.48L165.1 39.52L165.2 40.6L165.3 41.71L165.4 42.84L165.5 44.01L165.6 45.21L165.7 46.44M169.2 95.47L169.3 96.71L169.4 97.92L169.5 99.09L169.6 100.24L169.7 101.36L169.8 102.44L169.9 103.49L170 104.5L170.1 105.48" stroke="#fff" stroke-opacity="0.31" stroke-width="1" fill="none"/>
<path d="M55.1 104.92L55.2 105.85L55.3 106.74L55.4 107.59L55.5 108.4M58.9 108.82L59 108.02L59.1 107.19L59.2 106.31L59.3 105.39L59.4 104.44M64.7 34.56L64.8 33.62L64.9 32.72L65 31.86L65.1 31.04M68.4 30.37L68.5 31.16L68.6 31.98L68.7 32.85L68.8 33.76L68.9 34.71M74.2 105.29L74.3 106.25L74.4 107.18L74.5 108.06L74.6 108.9L74.7 109.7M78 109.68L78.1 108.89L78.2 108.05L78.3 107.17L78.4 106.25L78.5 105.3M83.8 36.03L83.9 35.1L84 34.22L84.1 33.37L84.2 32.56M87.7 32.98L87.8 33.8L87.9 34.66L88 35.56L88.1 36.49M93.3 102.91L93.4 103.85L93.5 104.75L93.6 105.62L93.7 106.44L93.8 107.23M97.3 106.87L97.4 106.07L97.5 105.23L97.6 104.35L97.7 103.43L97.8 102.48M102.9 37.46L103 36.51L103.1 35.6L103.2 34.73L103.3 33.9L103.4 33.1M106.9 33.29L107 34.1L107.1 34.95L107.2 35.84L107.3 36.77M112.6 105.21L112.7 106.14L112.8 107.04L112.9 107.89L113 108.71M116.4 109.1L116.5 108.3L116.6 107.46L116.7 106.57L116.8 105.65M122.2 34.44L122.3 33.5L122.4 32.59L122.5 31.73L122.6 30.91M125.9 30.36L126 31.15L126.1 31.98L126.2 32.85L126.3 33.77L126.4 34.72M131.7 105.13L131.8 106.08L131.9 107L132 107.88L132.1 108.71L132.2 109.5M135.5 109.41L135.6 108.61L135.7 107.78L135.8 106.91L135.9 105.99L136 105.04M141.2 37.26L141.3 36.31L141.4 35.39L141.5 34.51L141.6 33.67L141.7 32.87M145.2 33.24L145.3 34.05L145.4 34.9L145.5 35.79L145.6 36.72L145.7 37.68M150.8 102.82L150.9 103.76L151 104.66L151.1 105.53L151.2 106.35L151.3 107.14M154.8 106.91L154.9 106.11L155 105.27L155.1 104.39L155.2 103.48L155.3 102.53M160.4 37.27L160.5 36.32L160.6 35.4L160.7 34.52L160.8 33.67L160.9 32.87M164.4 33L164.5 33.82L164.6 34.67L164.7 35.57L164.8 36.5M170.1 105.48L170.2 106.42L170.3 107.32L170.4 108.18L170.5 109.01" stroke="#fff" stroke-opacity="0.38" stroke-width="1" fill="none"/>
<path d="M55.5 108.4L55.6 109.17L55.7 109.9L55.8 110.58M58.6 110.95L58.7 110.28L58.8 109.57L58.9 108.82M65.1 31.04L65.2 30.26L65.3 29.53L65.4 28.84M68.1 28.27L68.2 28.93L68.3 29.63L68.4 30.37M74.7 109.7L74.8 110.46L74.9 111.17L75 111.84M77.7 111.82L77.8 111.15L77.9 110.44L78 109.68M84.2 32.56L84.3 31.79L84.4 31.07L84.5 30.39M87.3 30.1L87.4 30.76L87.5 31.46L87.6 32.2L87.7 32.98M93.8 107.23L93.9 107.98L94 108.68L94.1 109.35M97 109.05L97.1 108.36L97.2 107.64L97.3 106.87M103.4 33.1L103.5 32.34L103.6 31.62L103.7 30.95M106.6 31.1L106.7 31.79L106.8 32.52L106.9 33.29M113 108.71L113.1 109.49L113.2 110.22L113.3 110.91M116.1 111.26L116.2 110.58L116.3 109.86L116.4 109.1M122.6 30.91L122.7 30.14L122.8 29.4L122.9 28.71M125.6 28.25L125.7 28.91L125.8 29.61L125.9 30.36M132.2 109.5L132.3 110.26L132.4 110.96L132.5 111.63M135.2 111.53L135.3 110.87L135.4 110.16L135.5 109.41M141.7 32.87L141.8 32.1L141.9 31.39L142 30.71M144.8 30.38L144.9 31.04L145 31.73L145.1 32.46L145.2 33.24M151.3 107.14L151.4 107.89L151.5 108.6L151.6 109.27M154.5 109.08L154.6 108.39L154.7 107.67L154.8 106.91M160.9 32.87L161 32.11L161.1 31.38L161.2 30.7M164.1 30.8L164.2 31.49L164.3 32.22L164.4 33M170.5 109.01L170.6 109.79L170.7 110.53L170.8 111.22L170.9 111.87" stroke="#fff" stroke-opacity="0.44" stroke-width="1" fill="none"/>
<path d="M55.8 110.58L55.9 111.23L56 111.83L56.1 112.38M58.4 112.15L58.5 111.58L58.6 110.95M65.4 28.84L65.5 28.19L65.6 27.59L65.7 27.03M67.9 27.1L68 27.67L68.1 28.27M75 111.84L75.1 112.47L75.2 113.05M77.5 113.02L77.6 112.44L77.7 111.82M84.5 30.39L84.6 29.75L84.7 29.15L84.8 28.6M87.1 28.91L87.2 29.48L87.3 30.1M94.1 109.35L94.2 109.97L94.3 110.56M96.7 110.85L96.8 110.29L96.9 109.69L97 109.05M103.7 30.95L103.8 30.32L103.9 29.72M106.3 29.29L106.4 29.85L106.5 30.45L106.6 31.1M113.3 110.91L113.4 111.56L113.5 112.17L113.6 112.73M115.9 112.47L116 111.89L116.1 111.26M122.9 28.71L123 28.07L123.1 27.47L123.2 26.91M125.4 27.07L125.5 27.64L125.6 28.25M132.5 111.63L132.6 112.24L132.7 112.82M135 112.73L135.1 112.16L135.2 111.53M142 30.71L142.1 30.07L142.2 29.48M144.6 29.21L144.7 29.77L144.8 30.38M151.6 109.27L151.7 109.9L151.8 110.48M154.2 110.87L154.3 110.31L154.4 109.71L154.5 109.08M161.2 30.7L161.3 30.06L161.4 29.46L161.5 28.91M163.8 28.98L163.9 29.54L164 30.15L164.1 30.8M170.9 111.87L171 112.48L171.1 113.05M173.4 112.74L173.5 112.15" stroke="#fff" stroke-opacity="0.5" stroke-width="1" fill="none"/>
<path d="M56.1 112.38L56.2 112.9L56.3 113.36M58.2 113.18L58.3 112.69L58.4 112.15M65.7 27.03L65.8 26.52M67.7 26.12L67.8 26.59L67.9 27.1M75.2 113.05L75.3 113.58L75.4 114.07M77.3 114.04L77.4 113.56L77.5 113.02M84.8 28.6L84.9 28.1M86.9 27.9L87 28.38L87.1 28.91M94.3 110.56L94.4 111.09L94.5 111.59M96.5 111.83L96.6 111.36L96.7 110.85M103.9 29.72L104 29.18L104.1 28.67M106.1 28.3L106.2 28.77L106.3 29.29M113.6 112.73L113.7 113.24L113.8 113.71M115.7 113.5L115.8 113.01L115.9 112.47M123.2 26.91L123.3 26.41M125.2 26.08L125.3 26.55L125.4 27.07M132.7 112.82L132.8 113.34L132.9 113.82M134.8 113.75L134.9 113.26L135 112.73M142.2 29.48L142.3 28.94L142.4 28.44M144.4 28.21L144.5 28.69L144.6 29.21M151.8 110.48L151.9 111.02L152 111.52M154 111.84L154.1 111.38L154.2 110.87M161.5 28.91L161.6 28.4L161.7 27.93M163.6 27.99L163.7 28.46L163.8 28.98M171.1 113.05L171.2 113.56L171.3 114.03M173.2 113.78L173.3 113.28L173.4 112.74" stroke="#fff" stroke-opacity="0.56" stroke-width="1" fill="none"/>
<path d="M56.3 113.36L56.4 113.78M58 114.01L58.1 113.62L58.2 113.18M65.8 26.52L65.9 26.06L66 25.65M67.6 25.7L67.7 26.12M75.4 114.07L75.5 114.51L75.6 114.9M77.1 114.88L77.2 114.48L77.3 114.04M84.9 28.1L85 27.64L85.1 27.23M86.7 27.07L86.8 27.46L86.9 27.9M94.5 111.59L94.6 112.04L94.7 112.44M96.4 112.26L96.5 111.83M104.1 28.67L104.2 28.21L104.3 27.8M106 27.88L106.1 28.3M113.8 113.71L113.9 114.14M115.5 114.35L115.6 113.95L115.7 113.5M123.3 26.41L123.4 25.95L123.5 25.54M125.1 25.65L125.2 26.08M132.9 113.82L133 114.26M134.6 114.58L134.7 114.19L134.8 113.75M142.4 28.44L142.5 27.98L142.6 27.57M144.3 27.78L144.4 28.21M152 111.52L152.1 111.97L152.2 112.38M153.9 112.26L154 111.84M161.7 27.93L161.8 27.51M163.5 27.56L163.6 27.99M171.3 114.03L171.4 114.46M173 114.64L173.1 114.23L173.2 113.78" stroke="#fff" stroke-opacity="0.62" stroke-width="1" fill="none"/>
<path d="M56.4 113.78L56.5 114.16L56.6 114.48M57.9 114.36L58 114.01M66 25.65L66.1 25.28M67.4 25L67.5 25.32L67.6 25.7M75.6 114.9L75.7 115.24M77 115.22L77.1 114.88M85.1 27.23L85.2 26.86M86.6 26.72L86.7 27.07M94.7 112.44L94.8 112.8M96.2 112.97L96.3 112.64L96.4 112.26M104.3 27.8L104.4 27.43L104.5 27.1M105.8 27.16L105.9 27.5L106 27.88M113.9 114.14L114 114.51L114.1 114.84M115.4 114.7L115.5 114.35M123.5 25.54L123.6 25.17M124.9 24.94L125 25.27L125.1 25.65M133 114.26L133.1 114.64L133.2 114.98M134.5 114.93L134.6 114.58M142.6 27.57L142.7 27.2M144.1 27.05L144.2 27.39L144.3 27.78M152.2 112.38L152.3 112.74M153.7 112.97L153.8 112.64L153.9 112.26M161.8 27.51L161.9 27.14L162 26.81M163.3 26.84L163.4 27.18L163.5 27.56M171.4 114.46L171.5 114.83L171.6 115.16M172.9 114.99L173 114.64" stroke="#fff" stroke-opacity="0.69" stroke-width="1" fill="none"/>
<path d="M56.6 114.48L56.7 114.76M57.8 114.66L57.9 114.36M66.1 25.28L66.2 24.96L66.3 24.69M67.3 24.72L67.4 25M75.7 115.24L75.8 115.53M76.9 115.52L77 115.22M85.2 26.86L85.3 26.54L85.4 26.27M86.5 26.42L86.6 26.72M94.8 112.8L94.9 113.12L95 113.39M96.1 113.26L96.2 112.97M104.5 27.1L104.6 26.83M105.7 26.88L105.8 27.16M114.1 114.84L114.2 115.12M115.3 115L115.4 114.7M123.6 25.17L123.7 24.86L123.8 24.59M124.8 24.66L124.9 24.94M133.2 114.98L133.3 115.27M134.4 115.22L134.5 114.93M142.7 27.2L142.8 26.88L142.9 26.61M144 26.75L144.1 27.05M152.3 112.74L152.4 113.06L152.5 113.33M153.6 113.26L153.7 112.97M162 26.81L162.1 26.53M163.2 26.56L163.3 26.84M171.6 115.16L171.7 115.44M172.7 115.56L172.8 115.3L172.9 114.99" stroke="#fff" stroke-opacity="0.75" stroke-width="1" fill="none"/>
<path d="M56.7 114.76L56.8 114.99M57.6 115.11L57.7 114.91L57.8 114.66M66.3 24.69L66.4 24.47M67.2 24.5L67.3 24.72M75.8 115.53L75.9 115.78L76 115.97M76.7 115.96L76.8 115.76L76.9 115.52M85.4 26.27L85.5 26.04M86.3 25.97L86.4 26.17L86.5 26.42M95 113.39L95.1 113.61M95.9 113.71L96 113.51L96.1 113.26M104.6 26.83L104.7 26.6M105.5 26.44L105.6 26.64L105.7 26.88M114.2 115.12L114.3 115.35M115.1 115.46L115.2 115.26L115.3 115M123.8 24.59L123.9 24.38M124.7 24.43L124.8 24.66M133.3 115.27L133.4 115.51L133.5 115.7M134.2 115.67L134.3 115.47L134.4 115.22M142.9 26.61L143 26.39M143.8 26.3L143.9 26.5L144 26.75M152.5 113.33L152.6 113.56M153.4 113.69L153.5 113.5L153.6 113.26M162.1 26.53L162.2 26.29L162.3 26.11M163 26.12L163.1 26.32L163.2 26.56M171.7 115.44L171.8 115.68M172.6 115.77L172.7 115.56" stroke="#fff" stroke-opacity="0.81" stroke-width="1" fill="none"/>
<path d="M56.8 114.99L56.9 115.18L57 115.31M57.4 115.37L57.5 115.27L57.6 115.11M66.4 24.47L66.5 24.3L66.6 24.18M67 24.19L67.1 24.32L67.2 24.5M76 115.97L76.1 116.12M76.6 116.11L76.7 115.96M85.5 26.04L85.6 25.87L85.7 25.74M86.1 25.7L86.2 25.81L86.3 25.97M95.1 113.61L95.2 113.78L95.3 113.91M95.7 113.96L95.8 113.86L95.9 113.71M104.7 26.6L104.8 26.41L104.9 26.27M105.4 26.3L105.5 26.44M114.3 115.35L114.4 115.54L114.5 115.67M114.9 115.73L115 115.62L115.1 115.46M123.9 24.38L124 24.21L124.1 24.09M124.5 24.12L124.6 24.25L124.7 24.43M133.5 115.7L133.6 115.85M134 115.93L134.1 115.83L134.2 115.67M143 26.39L143.1 26.21L143.2 26.08M143.6 26.04L143.7 26.15L143.8 26.3M152.6 113.56L152.7 113.74L152.8 113.87M153.3 113.84L153.4 113.69M162.3 26.11L162.4 25.97M162.9 25.98L163 26.12M171.8 115.68L171.9 115.86L172 116M172.4 116.04L172.5 115.93L172.6 115.77" stroke="#fff" stroke-opacity="0.88" stroke-width="1" fill="none"/>
<path d="M57 115.31L57.1 115.4L57.2 115.44L57.3 115.43L57.4 115.37M66.6 24.18L66.7 24.11L66.8 24.09L66.9 24.11L67 24.19M76.1 116.12L76.2 116.22L76.3 116.27L76.4 116.26L76.5 116.21L76.6 116.11M85.7 25.74L85.8 25.66L85.9 25.62L86 25.64L86.1 25.7M95.3 113.91L95.4 114L95.5 114.03L95.6 114.02L95.7 113.96M104.9 26.27L105 26.18L105.1 26.14L105.2 26.15L105.3 26.2L105.4 26.3M114.5 115.67L114.6 115.76L114.7 115.8L114.8 115.79L114.9 115.73M124.1 24.09L124.2 24.02L124.3 24L124.4 24.04L124.5 24.12M133.6 115.85L133.7 115.94L133.8 115.99L133.9 115.98L134 115.93M143.2 26.08L143.3 26L143.4 25.96L143.5 25.98L143.6 26.04M152.8 113.87L152.9 113.96L153 114L153.1 113.99L153.2 113.94L153.3 113.84M162.4 25.97L162.5 25.87L162.6 25.83L162.7 25.83L162.8 25.88L162.9 25.98M172 116L172.1 116.08L172.2 116.12L172.3 116.1L172.4 116.04" stroke="#fff" stroke-opacity="0.94" stroke-width="1" fill="none"/>
<path d="M61.99 66.3v8" stroke="#fff" stroke-opacity="0.1" stroke-width="1.2"/>
<ellipse cx="71.58" cy="70.3" rx="1.3" ry="1.8" fill="#000" fill-opacity="0.85"/>
<path d="M81.16 66.3v8" stroke="#fff" stroke-opacity="0.2" stroke-width="1.2"/>
<ellipse cx="90.74" cy="70.3" rx="1.3" ry="1.8" fill="#000" fill-opacity="0.45"/>
<path d="M100.32 66.3v8" stroke="#fff" stroke-opacity="0.2" stroke-width="1.2"/>
<ellipse cx="109.91" cy="70.3" rx="1.3" ry="1.8" fill="#000" fill-opacity="0.85"/>
<path d="M119.49 66.3v8" stroke="#fff" stroke-opacity="0.2" stroke-width="1.2"/>
<ellipse cx="129.07" cy="70.3" rx="1.3" ry="1.8" fill="#000" fill-opacity="0.85"/>
<path d="M138.66 66.3v8" stroke="#fff" stroke-opacity="0.2" stroke-width="1.2"/>
<ellipse cx="148.24" cy="70.3" rx="1.3" ry="1.8" fill="#000" fill-opacity="0.45"/>
<path d="M157.83 66.3v8" stroke="#fff" stroke-opacity="0.2" stroke-width="1.2"/>
<ellipse cx="167.41" cy="70.3" rx="1.3" ry="1.8" fill="#000" fill-opacity="0.85"/>
</g></g>
<text x="51.5" y="32.1" font-size="9.5" text-anchor="end" font-weight="normal" fill="#262626">2000</text>
<text x="51.5" y="73.3" font-size="9.5" text-anchor="end" font-weight="normal" fill="#262626">0</text>
<text x="51.5" y="114.5" font-size="9.5" text-anchor="end" font-weight="normal" fill="#262626">−2000</text>
<text x="55.5" y="145.4" font-size="9.5" text-anchor="middle" font-weight="normal" fill="#262626">0</text>
<text x="113" y="145.4" font-size="9.5" text-anchor="middle" font-weight="normal" fill="#262626">0.5</text>
<text x="170.5" y="145.4" font-size="9.5" text-anchor="middle" font-weight="normal" fill="#262626">1</text>
<text x="113" y="160" font-size="10" text-anchor="middle" font-weight="normal" fill="#262626" textLength="35" lengthAdjust="spacingAndGlyphs">Time (s)</text>
<text x="21.6" y="70.5" font-size="10" text-anchor="middle" font-weight="normal" fill="#262626" textLength="69" lengthAdjust="spacingAndGlyphs" transform="rotate(-90 21.6 70.5)">Frequency (Hz)</text>
<text x="109.5" y="176.6" font-size="12" text-anchor="middle" fill="#111">(<tspan font-weight="bold">a</tspan>)</text>
<rect x="179.5" y="9" width="12" height="123" fill="url(#jet)"/>
<text x="194.5" y="12.3" font-size="9.5" text-anchor="start" font-weight="normal" fill="#262626">1</text>
<text x="194.5" y="36.9" font-size="9.5" text-anchor="start" font-weight="normal" fill="#262626">0.8</text>
<text x="194.5" y="61.5" font-size="9.5" text-anchor="start" font-weight="normal" fill="#262626">0.6</text>
<text x="194.5" y="86.1" font-size="9.5" text-anchor="start" font-weight="normal" fill="#262626">0.4</text>
<text x="194.5" y="110.7" font-size="9.5" text-anchor="start" font-weight="normal" fill="#262626">0.2</text>
<g clip-path="url(#cb)"><g filter="url(#fb)">
<rect x="283.5" y="-5" width="192.5" height="150" fill="#000"/>
<g transform="scale(1 2.1)">
<path d="M290.5 32.05L290.75 31.42L291 30.8L291.25 30.17L291.5 29.55L291.75 28.93L292 28.31L292.25 27.69L292.5 27.08L292.75 26.47L293 25.86L293.25 25.27L293.5 24.67L293.75 24.08L294 23.5L294.25 22.93L294.5 22.36L294.75 21.8L295 21.25L295.25 20.71L295.5 20.18L295.75 19.65L296 19.14L296.25 18.64L296.5 18.15L296.75 17.67L297 17.2L297.25 16.75L297.5 16.31M310.75 16.57L311 17.02L311.25 17.49L311.5 17.97L311.75 18.46L312 18.96L312.25 19.48L312.5 20L312.75 20.54L313 21.08L313.25 21.64L313.5 22.2L313.75 22.77L314 23.35L314.25 23.94L314.5 24.54L314.75 25.14L315 25.75L315.25 26.36L315.5 26.98L315.75 27.6L316 28.23L316.25 28.86L316.5 29.49L316.75 30.13L317 30.77L317.25 31.41L317.5 32.05L317.75 32.69L318 33.33L318.25 33.97L318.5 34.6L318.75 35.24L319 35.87L319.25 36.5L319.5 37.13L319.75 37.75L320 38.37L320.25 38.98L320.5 39.59L320.75 40.19L321 40.78L321.25 41.37L321.5 41.95L321.75 42.52L322 43.08L322.25 43.64L322.5 44.18L322.75 44.71L323 45.23L323.25 45.75L323.5 46.25L323.75 46.73L324 47.21L324.25 47.67L324.5 48.12M337.5 48.19L337.75 47.74L338 47.27L338.25 46.8L338.5 46.31L338.75 45.81L339 45.3L339.25 44.78L339.5 44.24L339.75 43.7L340 43.14L340.25 42.58L340.5 42.01L340.75 41.43L341 40.84L341.25 40.24L341.5 39.64L341.75 39.03L342 38.41L342.25 37.79L342.5 37.16L342.75 36.53L343 35.9L343.25 35.26L343.5 34.62L343.75 33.98L344 33.34L344.25 32.69L344.5 32.05L344.75 31.4L345 30.76L345.25 30.11L345.5 29.47L345.75 28.83L346 28.2L346.25 27.56L346.5 26.93L346.75 26.31L347 25.69L347.25 25.07L347.5 24.47L347.75 23.86L348 23.27L348.25 22.68L348.5 22.1L348.75 21.53L349 20.97L349.25 20.42L349.5 19.87L349.75 19.34L350 18.82L350.25 18.31L350.5 17.81L350.75 17.33L351 16.85L351.25 16.39L351.5 15.94M364.5 16.06L364.75 16.51L365 16.97L365.25 17.45L365.5 17.93L365.75 18.43L366 18.94L366.25 19.46L366.5 19.99L366.75 20.53L367 21.08L367.25 21.64L367.5 22.21L367.75 22.78L368 23.37L368.25 23.96L368.5 24.56L368.75 25.16L369 25.77L369.25 26.38L369.5 27L369.75 27.62L370 28.25L370.25 28.88L370.5 29.51L370.75 30.14L371 30.78L371.25 31.41L371.5 32.05L371.75 32.68L372 33.32L372.25 33.95L372.5 34.58L372.75 35.21L373 35.84L373.25 36.46L373.5 37.08L373.75 37.69L374 38.3L374.25 38.9L374.5 39.5L374.75 40.09L375 40.68L375.25 41.25L375.5 41.82L375.75 42.38L376 42.93L376.25 43.47L376.5 44L376.75 44.52L377 45.03L377.25 45.53L377.5 46.02L377.75 46.5L378 46.96L378.25 47.41M391.75 47.23L392 46.78L392.25 46.32L392.5 45.84L392.75 45.36L393 44.86L393.25 44.35L393.5 43.83L393.75 43.3L394 42.77L394.25 42.22L394.5 41.67L394.75 41.1L395 40.53L395.25 39.96L395.5 39.37L395.75 38.78L396 38.19L396.25 37.59L396.5 36.98L396.75 36.37L397 35.76L397.25 35.15L397.5 34.53L397.75 33.91L398 33.29L398.25 32.67L398.5 32.05L398.75 31.43L399 30.81L399.25 30.19L399.5 29.57L399.75 28.95L400 28.34L400.25 27.73L400.5 27.12L400.75 26.52L401 25.93L401.25 25.34L401.5 24.75L401.75 24.17L402 23.6L402.25 23.03L402.5 22.48L402.75 21.93L403 21.39L403.25 20.86L403.5 20.34L403.75 19.82L404 19.32L404.25 18.83L404.5 18.35L404.75 17.89L405 17.43L405.25 16.99M418.75 17.03L419 17.47L419.25 17.93L419.5 18.4L419.75 18.87L420 19.36L420.25 19.86L420.5 20.38L420.75 20.9L421 21.43L421.25 21.97L421.5 22.51L421.75 23.07L422 23.63L422.25 24.2L422.5 24.78L422.75 25.36L423 25.95L423.25 26.55L423.5 27.15L423.75 27.75L424 28.36L424.25 28.97L424.5 29.58L424.75 30.19L425 30.81L425.25 31.43L425.5 32.05L425.75 32.67L426 33.28L426.25 33.9L426.5 34.52L426.75 35.13L427 35.74L427.25 36.35L427.5 36.95L427.75 37.55L428 38.15L428.25 38.74L428.5 39.33L428.75 39.91L429 40.48L429.25 41.05L429.5 41.6L429.75 42.15L430 42.7L430.25 43.23L430.5 43.75L430.75 44.27L431 44.77L431.25 45.26L431.5 45.75L431.75 46.22L432 46.68L432.25 47.12M445.75 47.26L446 46.82L446.25 46.36L446.5 45.89L446.75 45.4L447 44.91L447.25 44.4L447.5 43.89L447.75 43.36L448 42.83L448.25 42.28L448.5 41.73L448.75 41.16L449 40.59L449.25 40.02L449.5 39.43L449.75 38.84L450 38.24L450.25 37.64L450.5 37.03L450.75 36.42L451 35.8L451.25 35.18L451.5 34.56L451.75 33.93L452 33.31L452.25 32.68L452.5 32.05L452.75 31.42L453 30.79L453.25 30.16L453.5 29.53L453.75 28.91L454 28.28L454.25 27.66L454.5 27.05L454.75 26.44L455 25.83L455.25 25.22L455.5 24.63L455.75 24.03L456 23.45L456.25 22.87L456.5 22.3L456.75 21.74L457 21.18L457.25 20.64L457.5 20.1L457.75 19.58L458 19.06L458.25 18.56L458.5 18.06L458.75 17.58L459 17.11L459.25 16.65L459.5 16.21" stroke="#fff" stroke-opacity="0.6" stroke-width="2.3" fill="none"/>
<path d="M297.5 16.31L297.75 15.88L298 15.46L298.25 15.06L298.5 14.67L298.75 14.3L299 13.94L299.25 13.6L299.5 13.27L299.75 12.96L300 12.66L300.25 12.39L300.5 12.12M307.5 12L307.75 12.26L308 12.53L308.25 12.82L308.5 13.12L308.75 13.44L309 13.78L309.25 14.14L309.5 14.5L309.75 14.89L310 15.29L310.25 15.7L310.5 16.13L310.75 16.57M324.5 48.12L324.75 48.56L325 48.98L325.25 49.39L325.5 49.78L325.75 50.16L326 50.53L326.25 50.87L326.5 51.2L326.75 51.52L327 51.82L327.25 52.1L327.5 52.37M334.5 52.41L334.75 52.15L335 51.87L335.25 51.57L335.5 51.26L335.75 50.93L336 50.58L336.25 50.22L336.5 49.84L336.75 49.45L337 49.04L337.25 48.62L337.5 48.19M351.5 15.94L351.75 15.51L352 15.09L352.25 14.69L352.5 14.3L352.75 13.92L353 13.56L353.25 13.22L353.5 12.89L353.75 12.58L354 12.28L354.25 12.01L354.5 11.75M361.5 11.83L361.75 12.09L362 12.38L362.25 12.67L362.5 12.99L362.75 13.32L363 13.67L363.25 14.03L363.5 14.41L363.75 14.8L364 15.21L364.25 15.63L364.5 16.06M378.25 47.41L378.5 47.85L378.75 48.27L379 48.68L379.25 49.07L379.5 49.45L379.75 49.82L380 50.17L380.25 50.5L380.5 50.82L380.75 51.13L381 51.41L381.25 51.68L381.5 51.94M388.5 51.82L388.75 51.56L389 51.28L389.25 50.99L389.5 50.68L389.75 50.35L390 50.01L390.25 49.66L390.5 49.29L390.75 48.91L391 48.51L391.25 48.1L391.5 47.67L391.75 47.23M405.25 16.99L405.5 16.56L405.75 16.14L406 15.74L406.25 15.35L406.5 14.97L406.75 14.61L407 14.27L407.25 13.94L407.5 13.62L407.75 13.32L408 13.04L408.25 12.77L408.5 12.52M415.5 12.55L415.75 12.8L416 13.07L416.25 13.35L416.5 13.65L416.75 13.97L417 14.3L417.25 14.65L417.5 15.01L417.75 15.39L418 15.78L418.25 16.18L418.5 16.6L418.75 17.03M432.25 47.12L432.5 47.56L432.75 47.98L433 48.39L433.25 48.78L433.5 49.16L433.75 49.53L434 49.88L434.25 50.21L434.5 50.53L434.75 50.84L435 51.13L435.25 51.4L435.5 51.66M442.5 51.75L442.75 51.5L443 51.23L443.25 50.95L443.5 50.65L443.75 50.33L444 50L444.25 49.65L444.5 49.29L444.75 48.91L445 48.52L445.25 48.12L445.5 47.7L445.75 47.26M459.5 16.21L459.75 15.78L460 15.36L460.25 14.95L460.5 14.56L460.75 14.19L461 13.83L461.25 13.48L461.5 13.16L461.75 12.84L462 12.54L462.25 12.26L462.5 12" stroke="#fff" stroke-opacity="0.65" stroke-width="2.3" fill="none"/>
<path d="M300.5 12.12L300.75 11.88L301 11.65L301.25 11.44L301.5 11.24L301.75 11.06L302 10.9M306 10.83L306.25 10.98L306.5 11.15L306.75 11.34L307 11.54L307.25 11.76L307.5 12M327.5 52.37L327.75 52.62L328 52.85L328.25 53.06L328.5 53.26L328.75 53.43L329 53.59M333 53.62L333.25 53.46L333.5 53.29L333.75 53.1L334 52.89L334.25 52.66L334.5 52.41M354.5 11.75L354.75 11.5L355 11.28L355.25 11.07L355.5 10.88L355.75 10.7L356 10.55M360 10.6L360.25 10.76L360.5 10.94L360.75 11.13L361 11.35L361.25 11.58L361.5 11.83M381.5 51.94L381.75 52.17L382 52.39L382.25 52.6L382.5 52.78L382.75 52.95L383 53.1M387 53.02L387.25 52.87L387.5 52.69L387.75 52.5L388 52.29L388.25 52.06L388.5 51.82M408.5 12.52L408.75 12.28L409 12.06L409.25 11.86L409.5 11.68L409.75 11.51L410 11.36M414 11.38L414.25 11.53L414.5 11.7L414.75 11.88L415 12.09L415.25 12.31L415.5 12.55M435.5 51.66L435.75 51.9L436 52.12L436.25 52.33L436.5 52.52L436.75 52.7L437 52.85M441 52.91L441.25 52.76L441.5 52.59L441.75 52.41L442 52.21L442.25 51.99L442.5 51.75M462.5 12L462.75 11.75L463 11.52L463.25 11.31L463.5 11.11L463.75 10.94L464 10.78M468 10.71L468.25 10.86L468.5 11.03L468.75 11.22L469 11.42" stroke="#fff" stroke-opacity="0.7" stroke-width="2.3" fill="none"/>
<path d="M302 10.9L302.25 10.76L302.5 10.64L302.75 10.53L303 10.45L303.25 10.38L303.5 10.33M304.5 10.31L304.75 10.35L305 10.41L305.25 10.49L305.5 10.58L305.75 10.7L306 10.83M329 53.59L329.25 53.74L329.5 53.86L329.75 53.96L330 54.05L330.25 54.12L330.5 54.17M331.5 54.17L331.75 54.13L332 54.06L332.25 53.98L332.5 53.88L332.75 53.76L333 53.62M356 10.55L356.25 10.41L356.5 10.3L356.75 10.2L357 10.12L357.25 10.05L357.5 10.01M358.5 10.02L358.75 10.07L359 10.14L359.25 10.23L359.5 10.33L359.75 10.46L360 10.6M383 53.1L383.25 53.23L383.5 53.34L383.75 53.44L384 53.52L384.25 53.57L384.5 53.62M385.5 53.6L385.75 53.55L386 53.48L386.25 53.39L386.5 53.29L386.75 53.16L387 53.02M410 11.36L410.25 11.23L410.5 11.11L410.75 11.02L411 10.94L411.25 10.88L411.5 10.83M412.5 10.84L412.75 10.88L413 10.95L413.25 11.03L413.5 11.13L413.75 11.24L414 11.38M437 52.85L437.25 52.99L437.5 53.11L437.75 53.21L438 53.3L438.25 53.36L438.5 53.41M439.5 53.43L439.75 53.39L440 53.33L440.25 53.25L440.5 53.15L440.75 53.04L441 52.91M464 10.78L464.25 10.63L464.5 10.51L464.75 10.4L465 10.32L465.25 10.25L465.5 10.2M466.5 10.18L466.75 10.22L467 10.28L467.25 10.36L467.5 10.46L467.75 10.57L468 10.71" stroke="#fff" stroke-opacity="0.75" stroke-width="2.3" fill="none"/>
<path d="M303.5 10.33L303.75 10.29L304 10.28L304.25 10.28L304.5 10.31M330.5 54.17L330.75 54.2L331 54.21L331.25 54.2L331.5 54.17M357.5 10.01L357.75 9.98L358 9.98L358.25 9.99L358.5 10.02M384.5 53.62L384.75 53.64L385 53.64L385.25 53.63L385.5 53.6M411.5 10.83L411.75 10.81L412 10.8L412.25 10.81L412.5 10.84M438.5 53.41L438.75 53.44L439 53.46L439.25 53.45L439.5 53.43M465.5 10.2L465.75 10.16L466 10.15L466.25 10.15L466.5 10.18" stroke="#fff" stroke-opacity="0.8" stroke-width="2.3" fill="none"/>
<path d="M290.5 32.05L290.75 32.67L291 33.3L291.25 33.92L291.5 34.55L291.75 35.17L292 35.79L292.25 36.4L292.5 37.02L292.75 37.63L293 38.23L293.25 38.83L293.5 39.42L293.75 40.01L294 40.59L294.25 41.17L294.5 41.74L294.75 42.29L295 42.85L295.25 43.39L295.5 43.92L295.75 44.44L296 44.95L296.25 45.46L296.5 45.95L296.75 46.43L297 46.89L297.25 47.35L297.5 47.79M310.75 47.53L311 47.07L311.25 46.61L311.5 46.13L311.75 45.64L312 45.13L312.25 44.62L312.5 44.1L312.75 43.56L313 43.01L313.25 42.46L313.5 41.89L313.75 41.32L314 40.74L314.25 40.15L314.5 39.56L314.75 38.96L315 38.35L315.25 37.73L315.5 37.12L315.75 36.49L316 35.86L316.25 35.23L316.5 34.6L316.75 33.96L317 33.33L317.25 32.69L317.5 32.05L317.75 31.41L318 30.77L318.25 30.13L318.5 29.49L318.75 28.86L319 28.22L319.25 27.59L319.5 26.97L319.75 26.34L320 25.73L320.25 25.11L320.5 24.51L320.75 23.91L321 23.31L321.25 22.72L321.5 22.15L321.75 21.58L322 21.01L322.25 20.46L322.5 19.92L322.75 19.38L323 18.86L323.25 18.35L323.5 17.85L323.75 17.36L324 16.89L324.25 16.42L324.5 15.97M337.5 15.91L337.75 16.36L338 16.82L338.25 17.3L338.5 17.78L338.75 18.28L339 18.8L339.25 19.32L339.5 19.85L339.75 20.4L340 20.95L340.25 21.52L340.5 22.09L340.75 22.67L341 23.26L341.25 23.85L341.5 24.46L341.75 25.07L342 25.68L342.25 26.3L342.5 26.93L342.75 27.56L343 28.19L343.25 28.83L343.5 29.47L343.75 30.11L344 30.76L344.25 31.4L344.5 32.05L344.75 32.69L345 33.34L345.25 33.98L345.5 34.62L345.75 35.26L346 35.9L346.25 36.53L346.5 37.16L346.75 37.79L347 38.41L347.25 39.02L347.5 39.63L347.75 40.23L348 40.83L348.25 41.41L348.5 41.99L348.75 42.57L349 43.13L349.25 43.68L349.5 44.22L349.75 44.75L350 45.28L350.25 45.79L350.5 46.28L350.75 46.77L351 47.24L351.25 47.7L351.5 48.15M364.5 48.03L364.75 47.58L365 47.12L365.25 46.65L365.5 46.16L365.75 45.66L366 45.16L366.25 44.63L366.5 44.1L366.75 43.56L367 43.01L367.25 42.45L367.5 41.89L367.75 41.31L368 40.73L368.25 40.14L368.5 39.54L368.75 38.94L369 38.33L369.25 37.71L369.5 37.1L369.75 36.47L370 35.85L370.25 35.22L370.5 34.59L370.75 33.95L371 33.32L371.25 32.68L371.5 32.05L371.75 31.41L372 30.78L372.25 30.14L372.5 29.51L372.75 28.88L373 28.26L373.25 27.64L373.5 27.02L373.75 26.4L374 25.79L374.25 25.19L374.5 24.59L374.75 24L375 23.42L375.25 22.84L375.5 22.27L375.75 21.71L376 21.16L376.25 20.62L376.5 20.09L376.75 19.57L377 19.06L377.25 18.56L377.5 18.07L377.75 17.6L378 17.14L378.25 16.69M391.75 16.86L392 17.31L392.25 17.78L392.5 18.25L392.75 18.74L393 19.24L393.25 19.74L393.5 20.26L393.75 20.79L394 21.33L394.25 21.87L394.5 22.43L394.75 22.99L395 23.56L395.25 24.14L395.5 24.72L395.75 25.31L396 25.91L396.25 26.51L396.5 27.11L396.75 27.72L397 28.33L397.25 28.95L397.5 29.56L397.75 30.18L398 30.8L398.25 31.43L398.5 32.05L398.75 32.67L399 33.29L399.25 33.91L399.5 34.53L399.75 35.14L400 35.76L400.25 36.36L400.5 36.97L400.75 37.57L401 38.17L401.25 38.76L401.5 39.34L401.75 39.92L402 40.5L402.25 41.06L402.5 41.62L402.75 42.17L403 42.71L403.25 43.24L403.5 43.76L403.75 44.27L404 44.77L404.25 45.26L404.5 45.74L404.75 46.21L405 46.66L405.25 47.11M418.75 47.07L419 46.62L419.25 46.17L419.5 45.7L419.75 45.22L420 44.73L420.25 44.23L420.5 43.72L420.75 43.2L421 42.67L421.25 42.13L421.5 41.58L421.75 41.03L422 40.46L422.25 39.89L422.5 39.31L422.75 38.73L423 38.14L423.25 37.55L423.5 36.95L423.75 36.35L424 35.74L424.25 35.13L424.5 34.52L424.75 33.9L425 33.28L425.25 32.67L425.5 32.05L425.75 31.43L426 30.81L426.25 30.19L426.5 29.58L426.75 28.96L427 28.35L427.25 27.75L427.5 27.14L427.75 26.54L428 25.94L428.25 25.35L428.5 24.77L428.75 24.19L429 23.62L429.25 23.05L429.5 22.49L429.75 21.94L430 21.4L430.25 20.87L430.5 20.34L430.75 19.83L431 19.32L431.25 18.83L431.5 18.35L431.75 17.88L432 17.42L432.25 16.97M445.75 16.83L446 17.28L446.25 17.74L446.5 18.21L446.75 18.69L447 19.18L447.25 19.69L447.5 20.21L447.75 20.73L448 21.27L448.25 21.81L448.5 22.37L448.75 22.93L449 23.5L449.25 24.08L449.5 24.66L449.75 25.26L450 25.85L450.25 26.46L450.5 27.07L450.75 27.68L451 28.29L451.25 28.91L451.5 29.54L451.75 30.16L452 30.79L452.25 31.42L452.5 32.05L452.75 32.68L453 33.31L453.25 33.94L453.5 34.56L453.75 35.19L454 35.81L454.25 36.43L454.5 37.05L454.75 37.66L455 38.27L455.25 38.87L455.5 39.47L455.75 40.06L456 40.65L456.25 41.22L456.5 41.8L456.75 42.36L457 42.91L457.25 43.46L457.5 43.99L457.75 44.52L458 45.03L458.25 45.54L458.5 46.03L458.75 46.52L459 46.99L459.25 47.44L459.5 47.89" stroke="#fff" stroke-opacity="0.6" stroke-width="2.3" fill="none"/>
<path d="M297.5 47.79L297.75 48.22L298 48.63L298.25 49.04L298.5 49.42L298.75 49.8L299 50.15L299.25 50.5L299.5 50.82L299.75 51.14L300 51.43L300.25 51.71L300.5 51.97M307.5 52.1L307.75 51.84L308 51.57L308.25 51.28L308.5 50.97L308.75 50.65L309 50.31L309.25 49.96L309.5 49.59L309.75 49.21L310 48.81L310.25 48.4L310.5 47.97L310.75 47.53M324.5 15.97L324.75 15.54L325 15.11L325.25 14.71L325.5 14.31L325.75 13.93L326 13.57L326.25 13.22L326.5 12.89L326.75 12.57L327 12.28L327.25 11.99L327.5 11.73M334.5 11.68L334.75 11.95L335 12.23L335.25 12.52L335.5 12.84L335.75 13.17L336 13.51L336.25 13.87L336.5 14.25L336.75 14.64L337 15.05L337.25 15.47L337.5 15.91M351.5 48.15L351.75 48.58L352 49L352.25 49.41L352.5 49.8L352.75 50.17L353 50.53L353.25 50.88L353.5 51.2L353.75 51.52L354 51.81L354.25 52.09L354.5 52.35M361.5 52.27L361.75 52L362 51.72L362.25 51.42L362.5 51.11L362.75 50.77L363 50.43L363.25 50.06L363.5 49.69L363.75 49.29L364 48.89L364.25 48.47L364.5 48.03M378.25 16.69L378.5 16.25L378.75 15.83L379 15.42L379.25 15.02L379.5 14.64L379.75 14.28L380 13.93L380.25 13.59L380.5 13.27L380.75 12.97L381 12.68L381.25 12.41L381.5 12.16M388.5 12.28L388.75 12.54L389 12.81L389.25 13.11L389.5 13.42L389.75 13.74L390 14.08L390.25 14.44L390.5 14.81L390.75 15.19L391 15.59L391.25 16L391.5 16.42L391.75 16.86M405.25 47.11L405.5 47.54L405.75 47.95L406 48.36L406.25 48.75L406.5 49.12L406.75 49.48L407 49.83L407.25 50.16L407.5 50.47L407.75 50.77L408 51.06L408.25 51.33L408.5 51.58M415.5 51.55L415.75 51.3L416 51.03L416.25 50.74L416.5 50.44L416.75 50.12L417 49.79L417.25 49.44L417.5 49.08L417.75 48.71L418 48.32L418.25 47.91L418.5 47.5L418.75 47.07M432.25 16.97L432.5 16.54L432.75 16.12L433 15.71L433.25 15.31L433.5 14.93L433.75 14.57L434 14.22L434.25 13.88L434.5 13.56L434.75 13.26L435 12.97L435.25 12.69L435.5 12.44M442.5 12.34L442.75 12.59L443 12.86L443.25 13.15L443.5 13.45L443.75 13.76L444 14.1L444.25 14.44L444.5 14.81L444.75 15.18L445 15.57L445.25 15.98L445.5 16.4L445.75 16.83M459.5 47.89L459.75 48.32L460 48.74L460.25 49.14L460.5 49.53L460.75 49.91L461 50.27L461.25 50.61L461.5 50.94L461.75 51.25L462 51.55L462.25 51.83L462.5 52.1" stroke="#fff" stroke-opacity="0.65" stroke-width="2.3" fill="none"/>
<path d="M300.5 51.97L300.75 52.22L301 52.45L301.25 52.66L301.5 52.85L301.75 53.03L302 53.19M306 53.27L306.25 53.11L306.5 52.95L306.75 52.76L307 52.56L307.25 52.33L307.5 52.1M327.5 11.73L327.75 11.48L328 11.25L328.25 11.03L328.5 10.84L328.75 10.66L329 10.5M333 10.47L333.25 10.63L333.5 10.81L333.75 11L334 11.21L334.25 11.44L334.5 11.68M354.5 52.35L354.75 52.59L355 52.82L355.25 53.03L355.5 53.22L355.75 53.39L356 53.55M360 53.5L360.25 53.34L360.5 53.16L360.75 52.96L361 52.75L361.25 52.52L361.5 52.27M381.5 12.16L381.75 11.92L382 11.7L382.25 11.5L382.5 11.31L382.75 11.15L383 11M387 11.07L387.25 11.23L387.5 11.4L387.75 11.6L388 11.81L388.25 12.03L388.5 12.28M408.5 51.58L408.75 51.81L409 52.03L409.25 52.23L409.5 52.42L409.75 52.58L410 52.73M414 52.72L414.25 52.57L414.5 52.4L414.75 52.21L415 52.01L415.25 51.79L415.5 51.55M435.5 12.44L435.75 12.19L436 11.97L436.25 11.76L436.5 11.57L436.75 11.4L437 11.24M441 11.19L441.25 11.34L441.5 11.5L441.75 11.69L442 11.89L442.25 12.11L442.5 12.34M462.5 52.1L462.75 52.34L463 52.57L463.25 52.79L463.5 52.98L463.75 53.16L464 53.32M468 53.39L468.25 53.24L468.5 53.07L468.75 52.88L469 52.67" stroke="#fff" stroke-opacity="0.7" stroke-width="2.3" fill="none"/>
<path d="M302 53.19L302.25 53.33L302.5 53.46L302.75 53.56L303 53.65L303.25 53.72L303.5 53.77M304.5 53.79L304.75 53.75L305 53.69L305.25 53.61L305.5 53.51L305.75 53.4L306 53.27M329 10.5L329.25 10.36L329.5 10.24L329.75 10.13L330 10.05L330.25 9.98L330.5 9.93M331.5 9.92L331.75 9.97L332 10.03L332.25 10.11L332.5 10.22L332.75 10.34L333 10.47M356 53.55L356.25 53.68L356.5 53.8L356.75 53.9L357 53.98L357.25 54.04L357.5 54.09M358.5 54.07L358.75 54.02L359 53.95L359.25 53.87L359.5 53.76L359.75 53.64L360 53.5M383 11L383.25 10.87L383.5 10.75L383.75 10.66L384 10.58L384.25 10.52L384.5 10.48M385.5 10.5L385.75 10.55L386 10.62L386.25 10.7L386.5 10.81L386.75 10.93L387 11.07M410 52.73L410.25 52.87L410.5 52.98L410.75 53.08L411 53.16L411.25 53.22L411.5 53.26M412.5 53.26L412.75 53.21L413 53.15L413.25 53.07L413.5 52.97L413.75 52.85L414 52.72M437 11.24L437.25 11.11L437.5 10.99L437.75 10.88L438 10.8L438.25 10.73L438.5 10.68M439.5 10.67L439.75 10.71L440 10.77L440.25 10.85L440.5 10.94L440.75 11.06L441 11.19M464 53.32L464.25 53.46L464.5 53.59L464.75 53.69L465 53.78L465.25 53.85L465.5 53.9M466.5 53.92L466.75 53.88L467 53.81L467.25 53.74L467.5 53.64L467.75 53.52L468 53.39" stroke="#fff" stroke-opacity="0.75" stroke-width="2.3" fill="none"/>
<path d="M303.5 53.77L303.75 53.8L304 53.81L304.25 53.81L304.5 53.79M330.5 9.93L330.75 9.9L331 9.89L331.25 9.9L331.5 9.92M357.5 54.09L357.75 54.11L358 54.12L358.25 54.1L358.5 54.07M384.5 10.48L384.75 10.46L385 10.45L385.25 10.47L385.5 10.5M411.5 53.26L411.75 53.29L412 53.3L412.25 53.29L412.5 53.26M438.5 10.68L438.75 10.65L439 10.64L439.25 10.65L439.5 10.67M465.5 53.9L465.75 53.93L466 53.95L466.25 53.94L466.5 53.92" stroke="#fff" stroke-opacity="0.8" stroke-width="2.3" fill="none"/>
</g>
<ellipse cx="317.5" cy="67.3" rx="1.3" ry="3.2" fill="#fff" fill-opacity="0.85"/>
<ellipse cx="344.5" cy="67.3" rx="1.7" ry="4" fill="#000" fill-opacity="0.55"/>
<ellipse cx="371.5" cy="67.3" rx="1.3" ry="3.2" fill="#fff" fill-opacity="0.85"/>
<ellipse cx="398.5" cy="67.3" rx="1.7" ry="4" fill="#000" fill-opacity="0.55"/>
<ellipse cx="425.5" cy="67.3" rx="1.3" ry="3.2" fill="#fff" fill-opacity="0.85"/>
<ellipse cx="452.5" cy="67.3" rx="1.7" ry="4" fill="#000" fill-opacity="0.55"/>
</g></g>
<text x="293.6" y="28.7" font-size="9.5" text-anchor="end" font-weight="normal" fill="#262626">2000</text>
<text x="293.6" y="70.3" font-size="9.5" text-anchor="end" font-weight="normal" fill="#262626">0</text>
<text x="293.6" y="111.9" font-size="9.5" text-anchor="end" font-weight="normal" fill="#262626">−2000</text>
<text x="298.5" y="144.3" font-size="9.5" text-anchor="middle" font-weight="normal" fill="#262626">0</text>
<text x="330.9" y="144.3" font-size="9.5" text-anchor="middle" font-weight="normal" fill="#262626">0.1</text>
<text x="363.3" y="144.3" font-size="9.5" text-anchor="middle" font-weight="normal" fill="#262626">0.2</text>
<text x="395.7" y="144.3" font-size="9.5" text-anchor="middle" font-weight="normal" fill="#262626">0.3</text>
<text x="428.1" y="144.3" font-size="9.5" text-anchor="middle" font-weight="normal" fill="#262626">0.4</text>
<text x="460.5" y="144.3" font-size="9.5" text-anchor="middle" font-weight="normal" fill="#262626">0.5</text>
<text x="379" y="160" font-size="10" text-anchor="middle" font-weight="normal" fill="#262626" textLength="35" lengthAdjust="spacingAndGlyphs">Time (s)</text>
<text x="262.4" y="68.5" font-size="10" text-anchor="middle" font-weight="normal" fill="#262626" textLength="69" lengthAdjust="spacingAndGlyphs" transform="rotate(-90 262.4 68.5)">Frequency (Hz)</text>
<text x="360.4" y="176.7" font-size="12" text-anchor="middle" fill="#111">(<tspan font-weight="bold">b</tspan>)</text>
<g clip-path="url(#cc)"><g>
<rect x="31.2" y="180" width="193.1" height="150.4" fill="#000"/>
<g transform="scale(1 2.1)">
<path d="M38.2 117.73L38.6 116.76L39 115.79L39.4 114.83L39.8 113.88L40.2 112.94L40.6 112.01L41 111.11L41.4 110.22L41.8 109.35L42.2 108.5L42.6 107.68L43 106.88L43.4 106.11L43.8 105.37L44.2 104.65L44.6 103.97L45 103.33L45.4 102.72L45.8 102.14L46.2 101.6L46.6 101.11L47 100.65L47.39 100.23L47.79 99.85L48.19 99.52L48.59 99.23L48.99 98.98L49.39 98.78L49.79 98.62L50.19 98.51L50.59 98.44L50.99 98.42L51.39 98.44L51.79 98.51L52.19 98.63L52.59 98.79L52.99 99L53.39 99.25L53.79 99.55L54.19 99.89L54.59 100.27L54.99 100.7L55.39 101.16L55.79 101.67L56.19 102.22L56.59 102.8L56.99 103.42L57.39 104.08L57.79 104.77L58.19 105.5L58.59 106.25L58.99 107.04L59.39 107.85L59.79 108.69L60.19 109.56L60.59 110.45L60.99 111.36L61.39 112.28L61.79 113.23L62.19 114.19L62.59 115.16L62.99 116.15L63.39 117.14L63.79 118.14L64.19 119.14L64.59 120.15L64.99 121.16L65.38 122.17L65.78 123.17L66.18 124.16L66.58 125.15L66.98 126.13L67.38 127.09L67.78 128.04L68.18 128.98L68.58 129.89L68.98 130.78L69.38 131.66L69.78 132.5L70.18 133.33L70.58 134.12L70.98 134.88L71.38 135.62L71.78 136.32L72.18 136.98L72.58 137.61L72.98 138.2L73.38 138.76L73.78 139.27L74.18 139.74L74.58 140.18L74.98 140.56L75.38 140.91L75.78 141.21L76.18 141.47L76.58 141.68L76.98 141.84L77.38 141.96L77.78 142.03L78.18 142.05L78.58 142.03L78.98 141.96L79.38 141.84L79.78 141.68L80.18 141.47L80.58 141.21L80.98 140.91L81.38 140.57L81.78 140.18L82.18 139.74L82.58 139.27L82.98 138.75L83.37 138.2L83.77 137.6L84.17 136.97L84.57 136.3L84.97 135.6L85.37 134.86L85.77 134.1L86.17 133.3L86.57 132.47L86.97 131.62L87.37 130.74L87.77 129.84L88.17 128.92L88.57 127.98L88.97 127.02L89.37 126.04L89.77 125.06L90.17 124.06L90.57 123.06L90.97 122.05L91.37 121.03L91.77 120.01L92.17 118.99L92.57 117.98L92.97 116.97L93.37 115.96L93.77 114.97L94.17 113.98L94.57 113.01L94.97 112.06L95.37 111.12L95.77 110.2L96.17 109.3L96.57 108.42L96.97 107.57L97.37 106.75L97.77 105.95L98.17 105.18L98.57 104.45L98.97 103.75L99.37 103.08L99.77 102.45L100.17 101.86L100.57 101.31L100.96 100.8L101.36 100.32L101.76 99.89L102.16 99.51L102.56 99.16L102.96 98.87L103.36 98.61L103.76 98.41L104.16 98.24L104.56 98.13L104.96 98.06L105.36 98.04L105.76 98.06L106.16 98.13L106.56 98.25L106.96 98.42L107.36 98.63L107.76 98.88L108.16 99.18L108.56 99.53L108.96 99.91L109.36 100.34L109.76 100.82L110.16 101.33L110.56 101.88L110.96 102.47L111.36 103.1L111.76 103.76L112.16 104.45L112.56 105.18L112.96 105.94L113.36 106.73L113.76 107.55L114.16 108.39L114.56 109.26L114.96 110.15L115.36 111.06L115.76 111.99L116.16 112.93L116.56 113.89L116.96 114.86L117.36 115.84L117.76 116.83L118.16 117.83L118.56 118.82L118.95 119.82L119.35 120.82L119.75 121.82L120.15 122.82L120.55 123.8L120.95 124.78L121.35 125.75L121.75 126.7L122.15 127.64L122.55 128.56L122.95 129.46L123.35 130.34L123.75 131.2L124.15 132.04L124.55 132.85L124.95 133.63L125.35 134.38L125.75 135.1L126.15 135.78L126.55 136.44L126.95 137.05L127.35 137.64L127.75 138.18L128.15 138.68L128.55 139.15L128.95 139.57L129.35 139.95L129.75 140.29L130.15 140.58L130.55 140.83L130.95 141.04L131.35 141.2L131.75 141.32L132.15 141.39L132.55 141.42L132.95 141.4L133.35 141.33L133.75 141.22L134.15 141.07L134.55 140.87L134.95 140.63L135.35 140.34L135.75 140.01L136.15 139.64L136.55 139.22L136.94 138.77L137.34 138.27L137.74 137.74L138.14 137.17L138.54 136.57L138.94 135.93L139.34 135.26L139.74 134.55L140.14 133.81L140.54 133.05L140.94 132.26L141.34 131.44L141.74 130.6L142.14 129.74L142.54 128.86L142.94 127.96L143.34 127.04L143.74 126.11L144.14 125.16L144.54 124.21L144.94 123.25L145.34 122.28L145.74 121.31L146.14 120.33L146.54 119.35L146.94 118.38L147.34 117.41L147.74 116.45L148.14 115.49L148.54 114.55L148.94 113.61L149.34 112.69L149.74 111.79L150.14 110.9L150.54 110.04L150.94 109.19L151.34 108.37L151.74 107.57L152.14 106.8L152.54 106.06L152.94 105.35L153.34 104.67L153.74 104.02L154.14 103.4L154.54 102.83L154.93 102.28L155.33 101.78L155.73 101.31L156.13 100.89L156.53 100.5L156.93 100.16L157.33 99.85L157.73 99.59L158.13 99.38L158.53 99.2L158.93 99.08L159.33 98.99L159.73 98.95L160.13 98.96L160.53 99.01L160.93 99.1L161.33 99.24L161.73 99.42L162.13 99.64L162.53 99.91L162.93 100.22L163.33 100.58L163.73 100.97L164.13 101.41L164.53 101.88L164.93 102.39L165.33 102.94L165.73 103.53L166.13 104.15L166.53 104.8L166.93 105.49L167.33 106.2L167.73 106.95L168.13 107.72L168.53 108.53L168.93 109.35L169.33 110.2L169.73 111.07L170.13 111.95L170.53 112.86L170.93 113.78L171.33 114.71L171.73 115.66L172.13 116.61L172.53 117.57L172.92 118.54L173.32 119.51L173.72 120.48L174.12 121.46L174.52 122.43L174.92 123.39L175.32 124.35L175.72 125.3L176.12 126.23L176.52 127.16L176.92 128.07L177.32 128.96L177.72 129.84L178.12 130.69L178.52 131.52L178.92 132.33L179.32 133.11L179.72 133.87L180.12 134.6L180.52 135.29L180.92 135.95L181.32 136.58L181.72 137.18L182.12 137.74L182.52 138.26L182.92 138.75L183.32 139.19L183.72 139.59L184.12 139.96L184.52 140.28L184.92 140.55L185.32 140.79L185.72 140.98L186.12 141.12L186.52 141.23L186.92 141.28L187.32 141.29L187.72 141.26L188.12 141.18L188.52 141.06L188.92 140.89L189.32 140.67L189.72 140.42L190.12 140.12L190.51 139.77L190.91 139.39L191.31 138.96L191.71 138.49L192.11 137.98L192.51 137.44L192.91 136.85L193.31 136.23L193.71 135.58L194.11 134.89L194.51 134.17L194.91 133.42L195.31 132.64L195.71 131.83L196.11 131L196.51 130.14L196.91 129.26L197.31 128.36L197.71 127.44L198.11 126.51L198.51 125.56L198.91 124.59L199.31 123.62L199.71 122.64L200.11 121.65L200.51 120.66L200.91 119.67L201.31 118.67L201.71 117.68L202.11 116.69L202.51 115.71L202.91 114.74L203.31 113.77L203.71 112.82L204.11 111.89L204.51 110.97L204.91 110.06L205.31 109.18L205.71 108.32L206.11 107.49L206.51 106.68L206.91 105.9L207.31 105.15L207.71 104.43L208.11 103.74L208.5 103.09L208.9 102.47L209.3 101.89L209.7 101.34L210.1 100.84L210.5 100.38L210.9 99.95L211.3 99.57L211.7 99.24L212.1 98.94L212.5 98.7L212.9 98.49L213.3 98.34L213.7 98.22L214.1 98.16L214.5 98.14L214.9 98.17L215.3 98.24L215.7 98.36L216.1 98.53L216.5 98.74L216.9 99L217.3 99.3" stroke="#fff" stroke-width="3.8" fill="none" stroke-linejoin="round"/>
<path d="M38.2 122.27L38.6 123.24L39 124.21L39.4 125.17L39.8 126.12L40.2 127.06L40.6 127.99L41 128.89L41.4 129.78L41.8 130.65L42.2 131.5L42.6 132.32L43 133.12L43.4 133.89L43.8 134.63L44.2 135.35L44.6 136.03L45 136.67L45.4 137.28L45.8 137.86L46.2 138.4L46.6 138.89L47 139.35L47.39 139.77L47.79 140.15L48.19 140.48L48.59 140.77L48.99 141.02L49.39 141.22L49.79 141.38L50.19 141.49L50.59 141.56L50.99 141.58L51.39 141.56L51.79 141.49L52.19 141.37L52.59 141.21L52.99 141L53.39 140.75L53.79 140.45L54.19 140.11L54.59 139.73L54.99 139.3L55.39 138.84L55.79 138.33L56.19 137.78L56.59 137.2L56.99 136.58L57.39 135.92L57.79 135.23L58.19 134.5L58.59 133.75L58.99 132.96L59.39 132.15L59.79 131.31L60.19 130.44L60.59 129.55L60.99 128.64L61.39 127.72L61.79 126.77L62.19 125.81L62.59 124.84L62.99 123.85L63.39 122.86L63.79 121.86L64.19 120.86L64.59 119.85L64.99 118.84L65.38 117.83L65.78 116.83L66.18 115.84L66.58 114.85L66.98 113.87L67.38 112.91L67.78 111.96L68.18 111.02L68.58 110.11L68.98 109.22L69.38 108.34L69.78 107.5L70.18 106.67L70.58 105.88L70.98 105.12L71.38 104.38L71.78 103.68L72.18 103.02L72.58 102.39L72.98 101.8L73.38 101.24L73.78 100.73L74.18 100.26L74.58 99.82L74.98 99.44L75.38 99.09L75.78 98.79L76.18 98.53L76.58 98.32L76.98 98.16L77.38 98.04L77.78 97.97L78.18 97.95L78.58 97.97L78.98 98.04L79.38 98.16L79.78 98.32L80.18 98.53L80.58 98.79L80.98 99.09L81.38 99.43L81.78 99.82L82.18 100.26L82.58 100.73L82.98 101.25L83.37 101.8L83.77 102.4L84.17 103.03L84.57 103.7L84.97 104.4L85.37 105.14L85.77 105.9L86.17 106.7L86.57 107.53L86.97 108.38L87.37 109.26L87.77 110.16L88.17 111.08L88.57 112.02L88.97 112.98L89.37 113.96L89.77 114.94L90.17 115.94L90.57 116.94L90.97 117.95L91.37 118.97L91.77 119.99L92.17 121.01L92.57 122.02L92.97 123.03L93.37 124.04L93.77 125.03L94.17 126.02L94.57 126.99L94.97 127.94L95.37 128.88L95.77 129.8L96.17 130.7L96.57 131.58L96.97 132.43L97.37 133.25L97.77 134.05L98.17 134.82L98.57 135.55L98.97 136.25L99.37 136.92L99.77 137.55L100.17 138.14L100.57 138.69L100.96 139.2L101.36 139.68L101.76 140.11L102.16 140.49L102.56 140.84L102.96 141.13L103.36 141.39L103.76 141.59L104.16 141.76L104.56 141.87L104.96 141.94L105.36 141.96L105.76 141.94L106.16 141.87L106.56 141.75L106.96 141.58L107.36 141.37L107.76 141.12L108.16 140.82L108.56 140.47L108.96 140.09L109.36 139.66L109.76 139.18L110.16 138.67L110.56 138.12L110.96 137.53L111.36 136.9L111.76 136.24L112.16 135.55L112.56 134.82L112.96 134.06L113.36 133.27L113.76 132.45L114.16 131.61L114.56 130.74L114.96 129.85L115.36 128.94L115.76 128.01L116.16 127.07L116.56 126.11L116.96 125.14L117.36 124.16L117.76 123.17L118.16 122.17L118.56 121.18L118.95 120.18L119.35 119.18L119.75 118.18L120.15 117.18L120.55 116.2L120.95 115.22L121.35 114.25L121.75 113.3L122.15 112.36L122.55 111.44L122.95 110.54L123.35 109.66L123.75 108.8L124.15 107.96L124.55 107.15L124.95 106.37L125.35 105.62L125.75 104.9L126.15 104.22L126.55 103.56L126.95 102.95L127.35 102.36L127.75 101.82L128.15 101.32L128.55 100.85L128.95 100.43L129.35 100.05L129.75 99.71L130.15 99.42L130.55 99.17L130.95 98.96L131.35 98.8L131.75 98.68L132.15 98.61L132.55 98.58L132.95 98.6L133.35 98.67L133.75 98.78L134.15 98.93L134.55 99.13L134.95 99.37L135.35 99.66L135.75 99.99L136.15 100.36L136.55 100.78L136.94 101.23L137.34 101.73L137.74 102.26L138.14 102.83L138.54 103.43L138.94 104.07L139.34 104.74L139.74 105.45L140.14 106.19L140.54 106.95L140.94 107.74L141.34 108.56L141.74 109.4L142.14 110.26L142.54 111.14L142.94 112.04L143.34 112.96L143.74 113.89L144.14 114.84L144.54 115.79L144.94 116.75L145.34 117.72L145.74 118.69L146.14 119.67L146.54 120.65L146.94 121.62L147.34 122.59L147.74 123.55L148.14 124.51L148.54 125.45L148.94 126.39L149.34 127.31L149.74 128.21L150.14 129.1L150.54 129.96L150.94 130.81L151.34 131.63L151.74 132.43L152.14 133.2L152.54 133.94L152.94 134.65L153.34 135.33L153.74 135.98L154.14 136.6L154.54 137.17L154.93 137.72L155.33 138.22L155.73 138.69L156.13 139.11L156.53 139.5L156.93 139.84L157.33 140.15L157.73 140.41L158.13 140.62L158.53 140.8L158.93 140.92L159.33 141.01L159.73 141.05L160.13 141.04L160.53 140.99L160.93 140.9L161.33 140.76L161.73 140.58L162.13 140.36L162.53 140.09L162.93 139.78L163.33 139.42L163.73 139.03L164.13 138.59L164.53 138.12L164.93 137.61L165.33 137.06L165.73 136.47L166.13 135.85L166.53 135.2L166.93 134.51L167.33 133.8L167.73 133.05L168.13 132.28L168.53 131.47L168.93 130.65L169.33 129.8L169.73 128.93L170.13 128.05L170.53 127.14L170.93 126.22L171.33 125.29L171.73 124.34L172.13 123.39L172.53 122.43L172.92 121.46L173.32 120.49L173.72 119.52L174.12 118.54L174.52 117.57L174.92 116.61L175.32 115.65L175.72 114.7L176.12 113.77L176.52 112.84L176.92 111.93L177.32 111.04L177.72 110.16L178.12 109.31L178.52 108.48L178.92 107.67L179.32 106.89L179.72 106.13L180.12 105.4L180.52 104.71L180.92 104.05L181.32 103.42L181.72 102.82L182.12 102.26L182.52 101.74L182.92 101.25L183.32 100.81L183.72 100.41L184.12 100.04L184.52 99.72L184.92 99.45L185.32 99.21L185.72 99.02L186.12 98.88L186.52 98.77L186.92 98.72L187.32 98.71L187.72 98.74L188.12 98.82L188.52 98.94L188.92 99.11L189.32 99.33L189.72 99.58L190.12 99.88L190.51 100.23L190.91 100.61L191.31 101.04L191.71 101.51L192.11 102.02L192.51 102.56L192.91 103.15L193.31 103.77L193.71 104.42L194.11 105.11L194.51 105.83L194.91 106.58L195.31 107.36L195.71 108.17L196.11 109L196.51 109.86L196.91 110.74L197.31 111.64L197.71 112.56L198.11 113.49L198.51 114.44L198.91 115.41L199.31 116.38L199.71 117.36L200.11 118.35L200.51 119.34L200.91 120.33L201.31 121.33L201.71 122.32L202.11 123.31L202.51 124.29L202.91 125.26L203.31 126.23L203.71 127.18L204.11 128.11L204.51 129.03L204.91 129.94L205.31 130.82L205.71 131.68L206.11 132.51L206.51 133.32L206.91 134.1L207.31 134.85L207.71 135.57L208.11 136.26L208.5 136.91L208.9 137.53L209.3 138.11L209.7 138.66L210.1 139.16L210.5 139.62L210.9 140.05L211.3 140.43L211.7 140.76L212.1 141.06L212.5 141.3L212.9 141.51L213.3 141.66L213.7 141.78L214.1 141.84L214.5 141.86L214.9 141.83L215.3 141.76L215.7 141.64L216.1 141.47L216.5 141.26L216.9 141L217.3 140.7" stroke="#fff" stroke-width="3.8" fill="none" stroke-linejoin="round"/>
</g>
</g></g>
<text x="41.4" y="213.5" font-size="9.5" text-anchor="end" font-weight="normal" fill="#262626">2000</text>
<text x="41.4" y="255.3" font-size="9.5" text-anchor="end" font-weight="normal" fill="#262626">0</text>
<text x="41.4" y="297" font-size="9.5" text-anchor="end" font-weight="normal" fill="#262626">−2000</text>
<text x="45.8" y="328.8" font-size="9.5" text-anchor="middle" font-weight="normal" fill="#262626">0</text>
<text x="78.5" y="328.8" font-size="9.5" text-anchor="middle" font-weight="normal" fill="#262626">0.1</text>
<text x="111.2" y="328.8" font-size="9.5" text-anchor="middle" font-weight="normal" fill="#262626">0.2</text>
<text x="143.9" y="328.8" font-size="9.5" text-anchor="middle" font-weight="normal" fill="#262626">0.3</text>
<text x="176.6" y="328.8" font-size="9.5" text-anchor="middle" font-weight="normal" fill="#262626">0.4</text>
<text x="209.3" y="328.8" font-size="9.5" text-anchor="middle" font-weight="normal" fill="#262626">0.5</text>
<text x="128" y="345" font-size="10" text-anchor="middle" font-weight="normal" fill="#262626" textLength="35" lengthAdjust="spacingAndGlyphs">Time (s)</text>
<text x="10.4" y="253.3" font-size="10" text-anchor="middle" font-weight="normal" fill="#262626" textLength="69" lengthAdjust="spacingAndGlyphs" transform="rotate(-90 10.4 253.3)">Frequency (Hz)</text>
<text x="108.7" y="360.8" font-size="12" text-anchor="middle" fill="#111">(<tspan font-weight="bold">c</tspan>)</text>
<path d="M305.92 190.5V313M312.34 190.5V313M318.76 190.5V313M325.18 190.5V313M338.02 190.5V313M344.44 190.5V313M350.86 190.5V313M357.28 190.5V313M370.12 190.5V313M376.54 190.5V313M382.96 190.5V313M389.38 190.5V313M402.22 190.5V313M408.64 190.5V313M415.06 190.5V313M421.48 190.5V313M434.32 190.5V313M440.74 190.5V313M447.16 190.5V313M453.58 190.5V313M299.5 308.32H460M299.5 300.16H460M299.5 283.84H460M299.5 275.68H460M299.5 267.52H460M299.5 259.36H460M299.5 243.04H460M299.5 234.88H460M299.5 226.72H460M299.5 218.56H460M299.5 202.24H460M299.5 194.08H460" stroke="#ddd" stroke-width="0.5" stroke-dasharray="0.8 1.2" fill="none"/>
<path d="M331.6 190.5V313M363.7 190.5V313M395.8 190.5V313M427.9 190.5V313M299.5 292H460M299.5 251.2H460M299.5 210.4H460" stroke="#dfdfdf" stroke-width="0.6" fill="none"/>
<g clip-path="url(#cd)">
<path d="M298.5 219.4L298.9 217.94L299.3 216.55L299.7 215.24L300.1 214.01L300.5 212.86L300.9 211.79L301.3 210.82L301.7 209.93L302.1 209.13L302.5 208.43M307.71 208.26L308.11 208.94L308.51 209.71L308.91 210.58L309.31 211.54L309.71 212.59L310.11 213.72L310.51 214.94L310.91 216.24L311.31 217.62L311.71 219.08L312.11 220.61L312.51 222.21L312.91 223.87L313.31 225.6L313.71 227.38L314.11 229.22L314.51 231.11L314.91 233.05L315.31 235.02L315.71 237.04L316.11 239.09L316.51 241.16L316.91 243.26L317.31 245.38L317.71 247.51L318.11 249.66L318.51 251.8L318.91 253.95L319.31 256.09L319.71 258.22L320.11 260.34L320.51 262.44L320.91 264.51L321.31 266.56L321.71 268.57L322.11 270.54L322.51 272.47L322.92 274.36L323.32 276.19L323.72 277.97L324.12 279.69L324.52 281.34L324.92 282.93L325.32 284.45L325.72 285.9L326.12 287.27L326.52 288.55L326.92 289.76L327.32 290.88L327.72 291.91L328.12 292.85L328.52 293.69L328.92 294.44M334.52 294.45L334.92 293.7L335.32 292.85L335.72 291.91L336.12 290.88L336.52 289.75L336.92 288.55L337.32 287.25L337.72 285.88L338.12 284.43L338.52 282.91L338.92 281.31L339.33 279.65L339.73 277.92L340.13 276.13L340.53 274.29L340.93 272.4L341.33 270.45L341.73 268.47L342.13 266.44L342.53 264.39L342.93 262.3L343.33 260.19L343.73 258.05L344.13 255.91L344.53 253.75L344.93 251.59L345.33 249.42L345.73 247.26L346.13 245.11L346.53 242.98L346.93 240.86L347.33 238.76L347.73 236.7L348.13 234.66L348.53 232.67L348.93 230.71L349.33 228.81L349.73 226.95L350.13 225.15L350.53 223.4L350.93 221.72L351.33 220.11L351.73 218.56L352.13 217.09L352.53 215.7L352.93 214.38L353.33 213.15L353.73 212.01L354.13 210.95L354.53 209.98L354.93 209.11L355.33 208.33L355.74 207.64M360.94 207.89L361.34 208.61L361.74 209.42L362.14 210.32L362.54 211.32L362.94 212.41L363.34 213.58L363.74 214.84L364.14 216.17L364.54 217.59L364.94 219.07L365.34 220.63L365.74 222.26L366.14 223.95L366.54 225.7L366.94 227.51L367.34 229.37L367.74 231.27L368.14 233.22L368.54 235.21L368.94 237.23L369.34 239.29L369.74 241.37L370.14 243.46L370.54 245.58L370.94 247.71L371.34 249.84L371.75 251.97L372.15 254.11L372.55 256.23L372.95 258.34L373.35 260.43L373.75 262.5L374.15 264.55L374.55 266.56L374.95 268.54L375.35 270.48L375.75 272.37L376.15 274.22L376.55 276.01L376.95 277.75L377.35 279.42L377.75 281.03L378.15 282.58L378.55 284.05L378.95 285.45L379.35 286.77L379.75 288.01L380.15 289.17L380.55 290.24L380.95 291.22L381.35 292.12L381.75 292.92L382.15 293.63M387.75 293.25L388.16 292.49L388.56 291.65L388.96 290.71L389.36 289.68L389.76 288.57L390.16 287.38L390.56 286.11L390.96 284.75L391.36 283.33L391.76 281.83L392.16 280.27L392.56 278.65L392.96 276.96L393.36 275.21L393.76 273.42L394.16 271.57L394.56 269.68L394.96 267.75L395.36 265.79L395.76 263.79L396.16 261.77L396.56 259.72L396.96 257.66L397.36 255.58L397.76 253.49L398.16 251.4L398.56 249.31L398.96 247.23L399.36 245.15L399.76 243.09L400.16 241.05L400.56 239.03L400.96 237.04L401.36 235.08L401.76 233.16L402.16 231.28L402.56 229.44L402.96 227.66L403.36 225.92L403.76 224.25L404.17 222.63L404.57 221.08L404.97 219.6L405.37 218.19L405.77 216.85L406.17 215.58L406.57 214.4L406.97 213.3L407.37 212.29L407.77 211.36L408.17 210.52L408.57 209.77M414.17 209.37L414.57 210.06L414.97 210.85L415.37 211.72L415.77 212.68L416.17 213.73L416.57 214.86L416.97 216.08L417.37 217.37L417.77 218.73L418.17 220.17L418.57 221.68L418.97 223.25L419.37 224.89L419.77 226.59L420.17 228.34L420.58 230.14L420.98 231.99L421.38 233.88L421.78 235.81L422.18 237.77L422.58 239.77L422.98 241.79L423.38 243.83L423.78 245.89L424.18 247.96L424.58 250.04L424.98 252.13L425.38 254.21L425.78 256.28L426.18 258.35L426.58 260.39L426.98 262.42L427.38 264.43L427.78 266.4L428.18 268.35L428.58 270.25L428.98 272.11L429.38 273.93L429.78 275.7L430.18 277.41L430.58 279.07L430.98 280.66L431.38 282.19L431.78 283.65L432.18 285.04L432.58 286.35L432.98 287.59L433.38 288.74L433.78 289.81L434.18 290.8L434.58 291.7L434.98 292.51L435.38 293.22M440.99 293.09L441.39 292.35L441.79 291.52L442.19 290.6L442.59 289.59L442.99 288.5L443.39 287.32L443.79 286.06L444.19 284.72L444.59 283.31L444.99 281.82L445.39 280.26L445.79 278.64L446.19 276.96L446.59 275.21L446.99 273.42L447.39 271.57L447.79 269.67L448.19 267.73L448.59 265.76L448.99 263.75L449.39 261.71L449.79 259.64L450.19 257.56L450.59 255.46L450.99 253.35L451.39 251.23L451.79 249.11L452.19 247L452.59 244.89L453 242.79L453.4 240.72L453.8 238.66L454.2 236.63L454.6 234.64L455 232.67L455.4 230.75L455.8 228.88L456.2 227.05L456.6 225.27L457 223.55L457.4 221.89L457.8 220.3L458.2 218.77L458.6 217.32L459 215.94L459.4 214.64L459.8 213.42L460.2 212.28L460.6 211.23L461 210.27" stroke="#444" stroke-opacity="0.38" stroke-width="0.7" fill="none" stroke-dasharray="1.3 0.5"/>
<path d="M302.5 208.43L302.9 207.83L303.3 207.31L303.7 206.9M306.5 206.81L306.91 207.19L307.31 207.68L307.71 208.26M328.92 294.44L329.32 295.1L329.72 295.66L330.12 296.11L330.52 296.47M332.92 296.47L333.32 296.12L333.72 295.66L334.12 295.1L334.52 294.45M355.74 207.64L356.14 207.06L356.54 206.57L356.94 206.18M359.74 206.32L360.14 206.74L360.54 207.27L360.94 207.89M382.15 293.63L382.55 294.24L382.95 294.75L383.35 295.17M386.15 295.33L386.55 294.95L386.95 294.48L387.35 293.91L387.75 293.25M408.57 209.77L408.97 209.12L409.37 208.55L409.77 208.09L410.17 207.72M412.97 207.85L413.37 208.26L413.77 208.77L414.17 209.37M435.38 293.22L435.78 293.85L436.18 294.37L436.58 294.81M439.39 295.09L439.79 294.73L440.19 294.28L440.59 293.73L440.99 293.09" stroke="#444" stroke-opacity="0.5" stroke-width="0.7" fill="none" stroke-dasharray="1.3 0.5"/>
<path d="M303.7 206.9L304.1 206.59L304.5 206.37L304.9 206.26M305.3 206.25L305.7 206.33L306.1 206.52L306.5 206.81M330.52 296.47L330.92 296.73L331.32 296.88M332.12 296.88L332.52 296.73L332.92 296.47M356.94 206.18L357.34 205.9L357.74 205.71M358.54 205.65L358.94 205.77L359.34 205.99L359.74 206.32M383.35 295.17L383.75 295.49L384.15 295.71L384.55 295.84M385.35 295.78L385.75 295.6L386.15 295.33M410.17 207.72L410.57 207.44L410.97 207.27M411.77 207.21L412.17 207.33L412.57 207.54L412.97 207.85M436.58 294.81L436.99 295.14L437.39 295.38L437.79 295.52M438.59 295.5L438.99 295.34L439.39 295.09" stroke="#444" stroke-opacity="0.62" stroke-width="0.7" fill="none" stroke-dasharray="1.3 0.5"/>
<path d="M304.9 206.26L305.3 206.25M331.32 296.88L331.72 296.93L332.12 296.88M357.74 205.71L358.14 205.63L358.54 205.65M384.55 295.84L384.95 295.86L385.35 295.78M410.97 207.27L411.37 207.19L411.77 207.21M437.79 295.52L438.19 295.56L438.59 295.5" stroke="#444" stroke-opacity="0.75" stroke-width="0.7" fill="none" stroke-dasharray="1.3 0.5"/>
<path d="M298.5 283L298.9 284.46L299.3 285.85L299.7 287.16L300.1 288.39L300.5 289.54L300.9 290.61L301.3 291.58L301.7 292.47L302.1 293.27L302.5 293.97M307.71 294.14L308.11 293.46L308.51 292.69L308.91 291.82L309.31 290.86L309.71 289.81L310.11 288.68L310.51 287.46L310.91 286.16L311.31 284.78L311.71 283.32L312.11 281.79L312.51 280.19L312.91 278.53L313.31 276.8L313.71 275.02L314.11 273.18L314.51 271.29L314.91 269.35L315.31 267.38L315.71 265.36L316.11 263.31L316.51 261.24L316.91 259.14L317.31 257.02L317.71 254.89L318.11 252.74L318.51 250.6L318.91 248.45L319.31 246.31L319.71 244.18L320.11 242.06L320.51 239.96L320.91 237.89L321.31 235.84L321.71 233.83L322.11 231.86L322.51 229.93L322.92 228.04L323.32 226.21L323.72 224.43L324.12 222.71L324.52 221.06L324.92 219.47L325.32 217.95L325.72 216.5L326.12 215.13L326.52 213.85L326.92 212.64L327.32 211.52L327.72 210.49L328.12 209.55L328.52 208.71L328.92 207.96M334.52 207.95L334.92 208.7L335.32 209.55L335.72 210.49L336.12 211.52L336.52 212.65L336.92 213.85L337.32 215.15L337.72 216.52L338.12 217.97L338.52 219.49L338.92 221.09L339.33 222.75L339.73 224.48L340.13 226.27L340.53 228.11L340.93 230L341.33 231.95L341.73 233.93L342.13 235.96L342.53 238.01L342.93 240.1L343.33 242.21L343.73 244.35L344.13 246.49L344.53 248.65L344.93 250.81L345.33 252.98L345.73 255.14L346.13 257.29L346.53 259.42L346.93 261.54L347.33 263.64L347.73 265.7L348.13 267.74L348.53 269.73L348.93 271.69L349.33 273.59L349.73 275.45L350.13 277.25L350.53 279L350.93 280.68L351.33 282.29L351.73 283.84L352.13 285.31L352.53 286.7L352.93 288.02L353.33 289.25L353.73 290.39L354.13 291.45L354.53 292.42L354.93 293.29L355.33 294.07L355.74 294.76M360.94 294.51L361.34 293.79L361.74 292.98L362.14 292.08L362.54 291.08L362.94 289.99L363.34 288.82L363.74 287.56L364.14 286.23L364.54 284.81L364.94 283.33L365.34 281.77L365.74 280.14L366.14 278.45L366.54 276.7L366.94 274.89L367.34 273.03L367.74 271.13L368.14 269.18L368.54 267.19L368.94 265.17L369.34 263.11L369.74 261.03L370.14 258.94L370.54 256.82L370.94 254.69L371.34 252.56L371.75 250.43L372.15 248.29L372.55 246.17L372.95 244.06L373.35 241.97L373.75 239.9L374.15 237.85L374.55 235.84L374.95 233.86L375.35 231.92L375.75 230.03L376.15 228.18L376.55 226.39L376.95 224.65L377.35 222.98L377.75 221.37L378.15 219.82L378.55 218.35L378.95 216.95L379.35 215.63L379.75 214.39L380.15 213.23L380.55 212.16L380.95 211.18L381.35 210.28L381.75 209.48L382.15 208.77M387.75 209.15L388.16 209.91L388.56 210.75L388.96 211.69L389.36 212.72L389.76 213.83L390.16 215.02L390.56 216.29L390.96 217.65L391.36 219.07L391.76 220.57L392.16 222.13L392.56 223.75L392.96 225.44L393.36 227.19L393.76 228.98L394.16 230.83L394.56 232.72L394.96 234.65L395.36 236.61L395.76 238.61L396.16 240.63L396.56 242.68L396.96 244.74L397.36 246.82L397.76 248.91L398.16 251L398.56 253.09L398.96 255.17L399.36 257.25L399.76 259.31L400.16 261.35L400.56 263.37L400.96 265.36L401.36 267.32L401.76 269.24L402.16 271.12L402.56 272.96L402.96 274.74L403.36 276.48L403.76 278.15L404.17 279.77L404.57 281.32L404.97 282.8L405.37 284.21L405.77 285.55L406.17 286.82L406.57 288L406.97 289.1L407.37 290.11L407.77 291.04L408.17 291.88L408.57 292.63M414.17 293.03L414.57 292.34L414.97 291.55L415.37 290.68L415.77 289.72L416.17 288.67L416.57 287.54L416.97 286.32L417.37 285.03L417.77 283.67L418.17 282.23L418.57 280.72L418.97 279.15L419.37 277.51L419.77 275.81L420.17 274.06L420.58 272.26L420.98 270.41L421.38 268.52L421.78 266.59L422.18 264.63L422.58 262.63L422.98 260.61L423.38 258.57L423.78 256.51L424.18 254.44L424.58 252.36L424.98 250.27L425.38 248.19L425.78 246.12L426.18 244.05L426.58 242.01L426.98 239.98L427.38 237.97L427.78 236L428.18 234.05L428.58 232.15L428.98 230.29L429.38 228.47L429.78 226.7L430.18 224.99L430.58 223.33L430.98 221.74L431.38 220.21L431.78 218.75L432.18 217.36L432.58 216.05L432.98 214.81L433.38 213.66L433.78 212.59L434.18 211.6L434.58 210.7L434.98 209.89L435.38 209.18M440.99 209.31L441.39 210.05L441.79 210.88L442.19 211.8L442.59 212.81L442.99 213.9L443.39 215.08L443.79 216.34L444.19 217.68L444.59 219.09L444.99 220.58L445.39 222.14L445.79 223.76L446.19 225.44L446.59 227.19L446.99 228.98L447.39 230.83L447.79 232.73L448.19 234.67L448.59 236.64L448.99 238.65L449.39 240.69L449.79 242.76L450.19 244.84L450.59 246.94L450.99 249.05L451.39 251.17L451.79 253.29L452.19 255.4L452.59 257.51L453 259.61L453.4 261.68L453.8 263.74L454.2 265.77L454.6 267.76L455 269.73L455.4 271.65L455.8 273.52L456.2 275.35L456.6 277.13L457 278.85L457.4 280.51L457.8 282.1L458.2 283.63L458.6 285.08L459 286.46L459.4 287.76L459.8 288.98L460.2 290.12L460.6 291.17L461 292.13" stroke="#444" stroke-opacity="0.38" stroke-width="0.7" fill="none" stroke-dasharray="1.3 0.5"/>
<path d="M302.5 293.97L302.9 294.57L303.3 295.09L303.7 295.5M306.5 295.59L306.91 295.21L307.31 294.72L307.71 294.14M328.92 207.96L329.32 207.3L329.72 206.74L330.12 206.29L330.52 205.93M332.92 205.93L333.32 206.28L333.72 206.74L334.12 207.3L334.52 207.95M355.74 294.76L356.14 295.34L356.54 295.83L356.94 296.22M359.74 296.08L360.14 295.66L360.54 295.13L360.94 294.51M382.15 208.77L382.55 208.16L382.95 207.65L383.35 207.23M386.15 207.07L386.55 207.45L386.95 207.92L387.35 208.49L387.75 209.15M408.57 292.63L408.97 293.28L409.37 293.85L409.77 294.31L410.17 294.68M412.97 294.55L413.37 294.14L413.77 293.63L414.17 293.03M435.38 209.18L435.78 208.55L436.18 208.03L436.58 207.59M439.39 207.31L439.79 207.67L440.19 208.12L440.59 208.67L440.99 209.31" stroke="#444" stroke-opacity="0.5" stroke-width="0.7" fill="none" stroke-dasharray="1.3 0.5"/>
<path d="M303.7 295.5L304.1 295.81L304.5 296.03L304.9 296.14M305.3 296.15L305.7 296.07L306.1 295.88L306.5 295.59M330.52 205.93L330.92 205.67L331.32 205.52M332.12 205.52L332.52 205.67L332.92 205.93M356.94 296.22L357.34 296.5L357.74 296.69M358.54 296.75L358.94 296.63L359.34 296.41L359.74 296.08M383.35 207.23L383.75 206.91L384.15 206.69L384.55 206.56M385.35 206.62L385.75 206.8L386.15 207.07M410.17 294.68L410.57 294.96L410.97 295.13M411.77 295.19L412.17 295.07L412.57 294.86L412.97 294.55M436.58 207.59L436.99 207.26L437.39 207.02L437.79 206.88M438.59 206.9L438.99 207.06L439.39 207.31" stroke="#444" stroke-opacity="0.62" stroke-width="0.7" fill="none" stroke-dasharray="1.3 0.5"/>
<path d="M304.9 296.14L305.3 296.15M331.32 205.52L331.72 205.47L332.12 205.52M357.74 296.69L358.14 296.77L358.54 296.75M384.55 206.56L384.95 206.54L385.35 206.62M410.97 295.13L411.37 295.21L411.77 295.19M437.79 206.88L438.19 206.84L438.59 206.9" stroke="#444" stroke-opacity="0.75" stroke-width="0.7" fill="none" stroke-dasharray="1.3 0.5"/>
</g>
<path d="M299.5 313v-1.6M299.5 190.5v1.6M331.6 313v-1.6M331.6 190.5v1.6M363.7 313v-1.6M363.7 190.5v1.6M395.8 313v-1.6M395.8 190.5v1.6M427.9 313v-1.6M427.9 190.5v1.6M460 313v-1.6M460 190.5v1.6M299.5 292h1.6M460 292h-1.6M299.5 251.2h1.6M460 251.2h-1.6M299.5 210.4h1.6M460 210.4h-1.6" stroke="#555" stroke-width="0.6" fill="none"/>
<rect x="299.5" y="190.5" width="160.5" height="122.5" fill="none" stroke="#555" stroke-width="0.7"/>
<text x="294.6" y="213.5" font-size="9.5" text-anchor="end" font-weight="normal" fill="#262626">2000</text>
<text x="294.6" y="254.4" font-size="9.5" text-anchor="end" font-weight="normal" fill="#262626">0</text>
<text x="294.6" y="295.3" font-size="9.5" text-anchor="end" font-weight="normal" fill="#262626">−2000</text>
<text x="299.3" y="327.3" font-size="9.5" text-anchor="middle" font-weight="normal" fill="#262626">0</text>
<text x="331.3" y="327.3" font-size="9.5" text-anchor="middle" font-weight="normal" fill="#262626">0.1</text>
<text x="363.3" y="327.3" font-size="9.5" text-anchor="middle" font-weight="normal" fill="#262626">0.2</text>
<text x="395.3" y="327.3" font-size="9.5" text-anchor="middle" font-weight="normal" fill="#262626">0.3</text>
<text x="427.3" y="327.3" font-size="9.5" text-anchor="middle" font-weight="normal" fill="#262626">0.4</text>
<text x="459.3" y="327.3" font-size="9.5" text-anchor="middle" font-weight="normal" fill="#262626">0.5</text>
<text x="379" y="342.1" font-size="10" text-anchor="middle" font-weight="normal" fill="#262626" textLength="35" lengthAdjust="spacingAndGlyphs">Time (s)</text>
<text x="263.6" y="252" font-size="10" text-anchor="middle" font-weight="normal" fill="#262626" textLength="69" lengthAdjust="spacingAndGlyphs" transform="rotate(-90 263.6 252)">Frequency (Hz)</text>
<text x="360.4" y="360.8" font-size="12" text-anchor="middle" fill="#111">(<tspan font-weight="bold">d</tspan>)</text>
<path d="M55.25 373.3V498.8M61.8 373.3V498.8M68.36 373.3V498.8M74.91 373.3V498.8M88.01 373.3V498.8M94.56 373.3V498.8M101.12 373.3V498.8M107.67 373.3V498.8M120.77 373.3V498.8M127.32 373.3V498.8M133.88 373.3V498.8M140.43 373.3V498.8M153.53 373.3V498.8M160.08 373.3V498.8M166.64 373.3V498.8M173.19 373.3V498.8M186.29 373.3V498.8M192.84 373.3V498.8M199.4 373.3V498.8M205.95 373.3V498.8M48.7 496.5H212.5M48.7 489.9H212.5M48.7 476.7H212.5M48.7 470.1H212.5M48.7 463.5H212.5M48.7 456.9H212.5M48.7 443.7H212.5M48.7 437.1H212.5M48.7 430.5H212.5M48.7 423.9H212.5M48.7 410.7H212.5M48.7 404.1H212.5M48.7 397.5H212.5M48.7 390.9H212.5M48.7 377.7H212.5" stroke="#ddd" stroke-width="0.5" stroke-dasharray="0.8 1.2" fill="none"/>
<path d="M81.46 373.3V498.8M114.22 373.3V498.8M146.98 373.3V498.8M179.74 373.3V498.8M48.7 483.3H212.5M48.7 450.3H212.5M48.7 417.3H212.5M48.7 384.3H212.5" stroke="#dfdfdf" stroke-width="0.6" fill="none"/>
<g clip-path="url(#ce)">
<path d="M48.7 418.15L49.1 419.8L49.5 421.72L49.9 423.89L50.3 426.29L50.7 428.9L51.1 431.7L51.5 434.67L51.9 437.77L52.3 440.99L52.7 444.3L53.11 447.66L53.51 451.05L53.91 454.44L54.31 457.8L54.71 461.1L55.11 464.32L55.51 467.42L55.91 470.38L56.31 473.18L56.71 475.79L57.11 478.18L57.51 480.34L57.91 482.25L58.31 483.9L58.71 485.26L59.11 486.33L59.51 487.1L59.91 487.55L60.31 487.7L60.71 487.53L61.12 487.05L61.52 486.26L61.92 485.17L62.32 483.79L62.72 482.13L63.12 480.2L63.52 478.02L63.92 475.61L64.32 472.99L64.72 470.18L65.12 467.21L65.52 464.1L65.92 460.87L66.32 457.56L66.72 454.2L67.12 450.81L67.52 447.42L67.92 444.06L68.32 440.76L68.72 437.55L69.12 434.45L69.53 431.5L69.93 428.71L70.33 426.11L70.73 423.73L71.13 421.57L71.53 419.67L71.93 418.04L72.33 416.69L72.73 415.63L73.13 414.88L73.53 414.43L73.93 414.3L74.33 414.48L74.73 414.98L75.13 415.78L75.53 416.88L75.93 418.27L76.33 419.95L76.73 421.89L77.13 424.08L77.54 426.5L77.94 429.13L78.34 431.94L78.74 434.92L79.14 438.04L79.54 441.26L79.94 444.57L80.34 447.94L80.74 451.33L81.14 454.72L81.54 458.08L81.94 461.37L82.34 464.58L82.74 467.67L83.14 470.62L83.54 473.4L83.94 475.99L84.34 478.37L84.74 480.51L85.14 482.4L85.54 484.02L85.95 485.36L86.35 486.4L86.75 487.15L87.15 487.58L87.55 487.7L87.95 487.5L88.35 487L88.75 486.18L89.15 485.07L89.55 483.66L89.95 481.98L90.35 480.03L90.75 477.83L91.15 475.4L91.55 472.76L91.95 469.94L92.35 466.95L92.75 463.83L93.15 460.6L93.55 457.29L93.96 453.92L94.36 450.53L94.76 447.14L95.16 443.78L95.56 440.49L95.96 437.29L96.36 434.2L96.76 431.26L97.16 428.49L97.56 425.9L97.96 423.54L98.36 421.41L98.76 419.53L99.16 417.92L99.56 416.59L99.96 415.56L100.36 414.83L100.76 414.41L101.16 414.3L101.56 414.51L101.97 415.04L102.37 415.87L102.77 417L103.17 418.43L103.57 420.14L103.97 422.12L104.37 424.34L104.77 426.79L105.17 429.46L105.57 432.3L105.97 435.31L106.37 438.46L106.77 441.71L107.17 445.04L107.57 448.42L107.97 451.83L108.37 455.23L108.77 458.59L109.17 461.89L109.57 465.09L109.97 468.17L110.38 471.1L110.78 473.86L111.18 476.43L111.58 478.77L111.98 480.88L112.38 482.72L112.78 484.3L113.18 485.59L113.58 486.57L113.98 487.26L114.38 487.63L114.78 487.68L115.18 487.42L115.58 486.85L115.98 485.96L116.38 484.78L116.78 483.3L117.18 481.55L117.58 479.53L117.98 477.27L118.39 474.78L118.79 472.08L119.19 469.21L119.59 466.17L119.99 463.01L120.39 459.74L120.79 456.4L121.19 453.01L121.59 449.6L121.99 446.21L122.39 442.86L122.79 439.57L123.19 436.39L123.59 433.33L123.99 430.42L124.39 427.7L124.79 425.17L125.19 422.86L125.59 420.8L125.99 418.99L126.39 417.47L126.8 416.23L127.2 415.29L127.6 414.66L128 414.34L128.4 414.34L128.8 414.65L129.2 415.26L129.6 416.19L130 417.4L130.4 418.9L130.8 420.68L131.2 422.71L131.6 424.98L132 427.47L132.4 430.17L132.8 433.04L133.2 436.06L133.6 439.21L134 442.46L134.4 445.78L134.81 449.14L135.21 452.53L135.61 455.89L136.01 459.22L136.41 462.48L136.81 465.64L137.21 468.67L137.61 471.56L138.01 474.27L138.41 476.78L138.81 479.08L139.21 481.13L139.61 482.93L140.01 484.46L140.41 485.71L140.81 486.66L141.21 487.31L141.61 487.65L142.01 487.67L142.41 487.39L142.81 486.8L143.22 485.9L143.62 484.71L144.02 483.23L144.42 481.48L144.82 479.47L145.22 477.22L145.62 474.74L146.02 472.06L146.42 469.21L146.82 466.2L147.22 463.06L147.62 459.82L148.02 456.5L148.42 453.14L148.82 449.76L149.22 446.39L149.62 443.05L150.02 439.79L150.42 436.62L150.82 433.57L151.23 430.68L151.63 427.95L152.03 425.42L152.43 423.1L152.83 421.03L153.23 419.21L153.63 417.65L154.03 416.38L154.43 415.41L154.83 414.74L155.23 414.37L155.63 414.32L156.03 414.58L156.43 415.15L156.83 416.02L157.23 417.2L157.63 418.67L158.03 420.41L158.43 422.41L158.83 424.66L159.23 427.13L159.64 429.81L160.04 432.67L160.44 435.68L160.84 438.83L161.24 442.08L161.64 445.41L162.04 448.78L162.44 452.18L162.84 455.56L163.24 458.91L163.64 462.18L164.04 465.36L164.44 468.42L164.84 471.33L165.24 474.07L165.64 476.61L166.04 478.92L166.44 481.01L166.84 482.83L167.24 484.38L167.65 485.65L168.05 486.62L168.45 487.28L168.85 487.64L169.25 487.68L169.65 487.41L170.05 486.82L170.45 485.93L170.85 484.74L171.25 483.27L171.65 481.51L172.05 479.5L172.45 477.24L172.85 474.76L173.25 472.07L173.65 469.21L174.05 466.19L174.45 463.04L174.85 459.78L175.25 456.45L175.66 453.08L176.06 449.68L176.46 446.3L176.86 442.96L177.26 439.68L177.66 436.51L178.06 433.45L178.46 430.55L178.86 427.82L179.26 425.29L179.66 422.98L180.06 420.91L180.46 419.1L180.86 417.56L181.26 416.31L181.66 415.35L182.06 414.7L182.46 414.35L182.86 414.32L183.26 414.58L183.66 415.11L184.07 415.92L184.47 416.99L184.87 418.32L185.27 419.91L185.67 421.72L186.07 423.77L186.47 426.02L186.87 428.46L187.27 431.07L187.67 433.84L188.07 436.74L188.47 439.74L188.87 442.83L189.27 445.98L189.67 449.18L190.07 452.38L190.47 455.58L190.87 458.74L191.27 461.84L191.67 464.86L192.08 467.77L192.48 470.55L192.88 473.19L193.28 475.66L193.68 477.93L194.08 480.01L194.48 481.86L194.88 483.47L195.28 484.84L195.68 485.95L196.08 486.79L196.48 487.37L196.88 487.66L197.28 487.67L197.68 487.4L198.08 486.86L198.48 486.04L198.88 484.96L199.28 483.61L199.68 482.02L200.08 480.19L200.49 478.14L200.89 475.88L201.29 473.43L201.69 470.81L202.09 468.04L202.49 465.13L202.89 462.13L203.29 459.03L203.69 455.88L204.09 452.68L204.49 449.48L204.89 446.28L205.29 443.13L205.69 440.03L206.09 437.01L206.49 434.11L206.89 431.33L207.29 428.7L207.69 426.24L208.09 423.97L208.5 421.91L208.9 420.07L209.3 418.46L209.7 417.1L210.1 416.01L210.5 415.17L210.9 414.62L211.3 414.34L211.7 414.33L212.1 414.61L212.5 415.17" stroke="#0072bd" stroke-width="1.5" fill="none" stroke-linejoin="round"/>
<path d="M48.7 482.02L49.1 480.39L49.5 478.5L49.9 476.37L50.3 474.01L50.7 471.44L51.1 468.68L51.5 465.77L51.9 462.71L52.3 459.54L52.7 456.29L53.11 452.99L53.51 449.65L53.91 446.32L54.31 443.01L54.71 439.76L55.11 436.6L55.51 433.55L55.91 430.63L56.31 427.88L56.71 425.32L57.11 422.96L57.51 420.84L57.91 418.96L58.31 417.34L58.71 416L59.11 414.95L59.51 414.19L59.91 413.74L60.31 413.6L60.71 413.77L61.12 414.24L61.52 415.01L61.92 416.09L62.32 417.45L62.72 419.08L63.12 420.98L63.52 423.12L63.92 425.49L64.32 428.07L64.72 430.83L65.12 433.76L65.52 436.82L65.92 439.99L66.32 443.24L66.72 446.55L67.12 449.89L67.52 453.22L67.92 456.53L68.32 459.77L68.72 462.93L69.12 465.98L69.53 468.88L69.93 471.63L70.33 474.18L70.73 476.53L71.13 478.65L71.53 480.51L71.93 482.12L72.33 483.45L72.73 484.49L73.13 485.23L73.53 485.67L73.93 485.8L74.33 485.62L74.73 485.14L75.13 484.35L75.53 483.26L75.93 481.89L76.33 480.24L76.73 478.34L77.13 476.18L77.54 473.8L77.94 471.22L78.34 468.45L78.74 465.52L79.14 462.45L79.54 459.28L79.94 456.02L80.34 452.71L80.74 449.37L81.14 446.04L81.54 442.74L81.94 439.5L82.34 436.34L82.74 433.3L83.14 430.4L83.54 427.66L83.94 425.12L84.34 422.78L84.74 420.67L85.14 418.81L85.54 417.22L85.95 415.9L86.35 414.88L86.75 414.15L87.15 413.72L87.55 413.6L87.95 413.79L88.35 414.29L88.75 415.09L89.15 416.19L89.55 417.57L89.95 419.23L90.35 421.15L90.75 423.31L91.15 425.7L91.55 428.29L91.95 431.07L92.35 434.01L92.75 437.08L93.15 440.26L93.55 443.52L93.96 446.83L94.36 450.16L94.76 453.5L95.16 456.8L95.56 460.04L95.96 463.19L96.36 466.22L96.76 469.12L97.16 471.85L97.56 474.39L97.96 476.71L98.36 478.81L98.76 480.66L99.16 482.24L99.56 483.55L99.96 484.56L100.36 485.28L100.76 485.69L101.16 485.8L101.56 485.59L101.97 485.08L102.37 484.26L102.77 483.14L103.17 481.74L103.57 480.05L103.97 478.11L104.37 475.92L104.77 473.51L105.17 470.89L105.57 468.09L105.97 465.13L106.37 462.04L106.77 458.84L107.17 455.56L107.57 452.23L107.97 448.89L108.37 445.54L108.77 442.24L109.17 438.99L109.57 435.84L109.97 432.81L110.38 429.93L110.78 427.21L111.18 424.69L111.58 422.38L111.98 420.31L112.38 418.49L112.78 416.95L113.18 415.68L113.58 414.71L113.98 414.04L114.38 413.67L114.78 413.62L115.18 413.87L115.58 414.44L115.98 415.31L116.38 416.47L116.78 417.93L117.18 419.65L117.58 421.64L117.98 423.86L118.39 426.31L118.79 428.96L119.19 431.79L119.59 434.77L119.99 437.89L120.39 441.1L120.79 444.39L121.19 447.72L121.59 451.07L121.99 454.41L122.39 457.71L122.79 460.94L123.19 464.07L123.59 467.08L123.99 469.94L124.39 472.62L124.79 475.11L125.19 477.38L125.59 479.41L125.99 481.18L126.39 482.68L126.8 483.9L127.2 484.83L127.6 485.45L128 485.76L128.4 485.76L128.8 485.46L129.2 484.85L129.6 483.95L130 482.75L130.4 481.27L130.8 479.53L131.2 477.53L131.6 475.29L132 472.84L132.4 470.19L132.8 467.37L133.2 464.4L133.6 461.3L134 458.1L134.4 454.84L134.81 451.53L135.21 448.2L135.61 444.89L136.01 441.61L136.41 438.41L136.81 435.3L137.21 432.32L137.61 429.48L138.01 426.81L138.41 424.34L138.81 422.08L139.21 420.06L139.61 418.29L140.01 416.78L140.41 415.56L140.81 414.62L141.21 413.99L141.61 413.65L142.01 413.63L142.41 413.9L142.81 414.49L143.22 415.37L143.62 416.54L144.02 418L144.42 419.72L144.82 421.7L145.22 423.91L145.62 426.35L146.02 428.98L146.42 431.79L146.82 434.75L147.22 437.84L147.62 441.03L148.02 444.29L148.42 447.6L148.82 450.92L149.22 454.24L149.62 457.52L150.02 460.73L150.42 463.84L150.82 466.84L151.23 469.69L151.63 472.37L152.03 474.86L152.43 477.14L152.83 479.18L153.23 480.97L153.63 482.5L154.03 483.75L154.43 484.71L154.83 485.37L155.23 485.73L155.63 485.78L156.03 485.53L156.43 484.97L156.83 484.1L157.23 482.95L157.63 481.51L158.03 479.79L158.43 477.82L158.83 475.61L159.23 473.18L159.64 470.54L160.04 467.73L160.44 464.76L160.84 461.67L161.24 458.47L161.64 455.2L162.04 451.88L162.44 448.54L162.84 445.21L163.24 441.92L163.64 438.7L164.04 435.57L164.44 432.56L164.84 429.7L165.24 427.01L165.64 424.51L166.04 422.23L166.44 420.19L166.84 418.39L167.24 416.86L167.65 415.62L168.05 414.67L168.45 414.01L168.85 413.66L169.25 413.62L169.65 413.89L170.05 414.46L170.45 415.34L170.85 416.51L171.25 417.96L171.65 419.68L172.05 421.67L172.45 423.89L172.85 426.33L173.25 428.97L173.65 431.79L174.05 434.76L174.45 437.86L174.85 441.06L175.25 444.34L175.66 447.66L176.06 451L176.46 454.32L176.86 457.61L177.26 460.83L177.66 463.96L178.06 466.96L178.46 469.81L178.86 472.5L179.26 474.99L179.66 477.26L180.06 479.29L180.46 481.08L180.86 482.59L181.26 483.83L181.66 484.77L182.06 485.41L182.46 485.75L182.86 485.78L183.26 485.53L183.66 485L184.07 484.21L184.47 483.15L184.87 481.84L185.27 480.29L185.67 478.5L186.07 476.49L186.47 474.27L186.87 471.87L187.27 469.3L187.67 466.58L188.07 463.73L188.47 460.78L188.87 457.74L189.27 454.63L189.67 451.49L190.07 448.34L190.47 445.2L190.87 442.09L191.27 439.04L191.67 436.07L192.08 433.21L192.48 430.47L192.88 427.87L193.28 425.45L193.68 423.21L194.08 421.17L194.48 419.35L194.88 417.76L195.28 416.41L195.68 415.32L196.08 414.49L196.48 413.93L196.88 413.64L197.28 413.63L197.68 413.89L198.08 414.43L198.48 415.23L198.88 416.3L199.28 417.62L199.68 419.19L200.08 420.99L200.49 423.01L200.89 425.23L201.29 427.64L201.69 430.22L202.09 432.94L202.49 435.8L202.89 438.76L203.29 441.8L203.69 444.9L204.09 448.04L204.49 451.2L204.89 454.34L205.29 457.45L205.69 460.49L206.09 463.46L206.49 466.32L206.89 469.05L207.29 471.64L207.69 474.05L208.09 476.29L208.5 478.32L208.9 480.13L209.3 481.71L209.7 483.04L210.1 484.12L210.5 484.94L210.9 485.49L211.3 485.77L211.7 485.77L212.1 485.49L212.5 484.94" stroke="#f01c24" stroke-width="1.5" fill="none" stroke-linejoin="round"/>
</g>
<path d="M81.46 498.8v-1.6M81.46 373.3v1.6M114.22 498.8v-1.6M114.22 373.3v1.6M146.98 498.8v-1.6M146.98 373.3v1.6M179.74 498.8v-1.6M179.74 373.3v1.6M212.5 498.8v-1.6M212.5 373.3v1.6M48.7 483.3h1.6M212.5 483.3h-1.6M48.7 450.3h1.6M212.5 450.3h-1.6M48.7 417.3h1.6M212.5 417.3h-1.6M48.7 384.3h1.6M212.5 384.3h-1.6" stroke="#555" stroke-width="0.6" fill="none"/>
<rect x="48.7" y="373.3" width="163.8" height="125.5" fill="none" stroke="#555" stroke-width="0.7"/>
<rect x="126.7" y="379.5" width="79.3" height="29" fill="#fff" stroke="#555" stroke-width="0.6"/>
<path d="M130 388H159.3" stroke="#0072bd" stroke-width="1.5"/>
<path d="M130 400.7H159.3" stroke="#f01c24" stroke-width="1.5"/>
<text x="162.4" y="390.3" font-size="9" text-anchor="start" font-weight="normal" fill="#262626" textLength="39.5" lengthAdjust="spacingAndGlyphs">Scatterer 1</text>
<text x="162.4" y="403" font-size="9" text-anchor="start" font-weight="normal" fill="#262626" textLength="39.5" lengthAdjust="spacingAndGlyphs">Scatterer 2</text>
<text x="44.4" y="387.6" font-size="9.5" text-anchor="end" font-weight="normal" fill="#262626">4000</text>
<text x="44.4" y="420.6" font-size="9.5" text-anchor="end" font-weight="normal" fill="#262626">2000</text>
<text x="44.4" y="453.6" font-size="9.5" text-anchor="end" font-weight="normal" fill="#262626">0</text>
<text x="44.4" y="486.6" font-size="9.5" text-anchor="end" font-weight="normal" fill="#262626">−2000</text>
<text x="80.66" y="513.7" font-size="9.5" text-anchor="middle" font-weight="normal" fill="#262626">0.2</text>
<text x="113.42" y="513.7" font-size="9.5" text-anchor="middle" font-weight="normal" fill="#262626">0.4</text>
<text x="146.18" y="513.7" font-size="9.5" text-anchor="middle" font-weight="normal" fill="#262626">0.6</text>
<text x="178.94" y="513.7" font-size="9.5" text-anchor="middle" font-weight="normal" fill="#262626">0.8</text>
<text x="211.7" y="513.7" font-size="9.5" text-anchor="middle" font-weight="normal" fill="#262626">1</text>
<text x="133.8" y="529.5" font-size="10" text-anchor="middle" font-weight="normal" fill="#262626" textLength="35" lengthAdjust="spacingAndGlyphs">Time (s)</text>
<text x="12.3" y="437" font-size="10" text-anchor="middle" font-weight="normal" fill="#262626" textLength="69" lengthAdjust="spacingAndGlyphs" transform="rotate(-90 12.3 437)">Frequency (Hz)</text>
<text x="108.7" y="544.8" font-size="12" text-anchor="middle" fill="#111">(<tspan font-weight="bold">e</tspan>)</text>
</svg></body></html>
